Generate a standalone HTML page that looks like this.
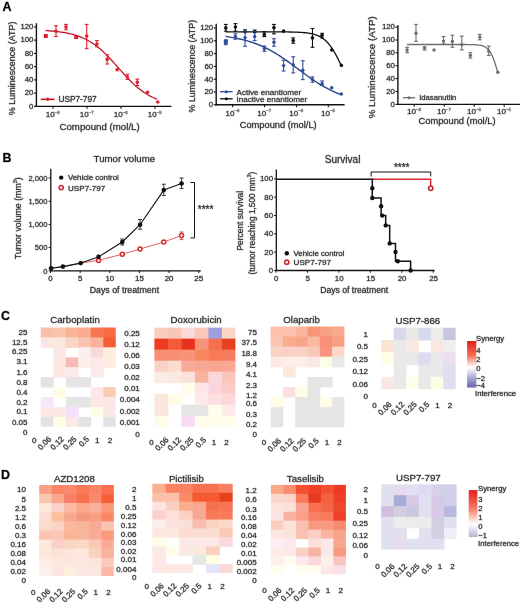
<!DOCTYPE html>
<html><head><meta charset="utf-8"><style>
html,body{margin:0;padding:0;background:#fff;width:520px;height:603px;overflow:hidden}
svg{display:block}
text{font-family:"Liberation Sans", sans-serif}
text{paint-order:stroke;stroke:rgba(40,40,40,0.38);stroke-width:0.8px;stroke-linejoin:round} svg{will-change:transform}
</style></head><body>
<svg width="520" height="603" viewBox="0 0 520 603">
<rect x="0" y="0" width="520" height="603" fill="#fff"/>
<text x="2.40" y="11.20" font-size="12.4" text-anchor="start" fill="#000" font-weight="bold" >A</text>
<text x="2.50" y="161.70" font-size="12.4" text-anchor="start" fill="#000" font-weight="bold" >B</text>
<text x="1.00" y="319.80" font-size="12.4" text-anchor="start" fill="#000" font-weight="bold" >C</text>
<text x="0.90" y="478.60" font-size="12.4" text-anchor="start" fill="#000" font-weight="bold" >D</text>
<line x1="36.40" y1="23.20" x2="36.40" y2="107.00" stroke="#111" stroke-width="1.4" />
<line x1="35.80" y1="106.40" x2="171.50" y2="106.40" stroke="#111" stroke-width="1.4" />
<line x1="34.00" y1="106.40" x2="36.40" y2="106.40" stroke="#111" stroke-width="1.1" />
<text x="33.40" y="108.71" font-size="7.8" text-anchor="end" fill="#2a2a2a" font-weight="normal" >0</text>
<line x1="34.00" y1="93.15" x2="36.40" y2="93.15" stroke="#111" stroke-width="1.1" />
<text x="33.40" y="95.46" font-size="7.8" text-anchor="end" fill="#2a2a2a" font-weight="normal" >20</text>
<line x1="34.00" y1="79.90" x2="36.40" y2="79.90" stroke="#111" stroke-width="1.1" />
<text x="33.40" y="82.21" font-size="7.8" text-anchor="end" fill="#2a2a2a" font-weight="normal" >40</text>
<line x1="34.00" y1="66.65" x2="36.40" y2="66.65" stroke="#111" stroke-width="1.1" />
<text x="33.40" y="68.96" font-size="7.8" text-anchor="end" fill="#2a2a2a" font-weight="normal" >60</text>
<line x1="34.00" y1="53.40" x2="36.40" y2="53.40" stroke="#111" stroke-width="1.1" />
<text x="33.40" y="55.71" font-size="7.8" text-anchor="end" fill="#2a2a2a" font-weight="normal" >80</text>
<line x1="34.00" y1="40.15" x2="36.40" y2="40.15" stroke="#111" stroke-width="1.1" />
<text x="33.40" y="42.46" font-size="7.8" text-anchor="end" fill="#2a2a2a" font-weight="normal" >100</text>
<line x1="34.00" y1="26.90" x2="36.40" y2="26.90" stroke="#111" stroke-width="1.1" />
<text x="33.40" y="29.21" font-size="7.8" text-anchor="end" fill="#2a2a2a" font-weight="normal" >120</text>
<line x1="53.00" y1="106.40" x2="53.00" y2="108.80" stroke="#111" stroke-width="1.1" />
<text x="52.70" y="117.20" font-size="8.0" text-anchor="middle" fill="#2a2a2a">10<tspan font-size="4.4" dy="-3.2" fill="#555">−8</tspan></text>
<line x1="87.00" y1="106.40" x2="87.00" y2="108.80" stroke="#111" stroke-width="1.1" />
<text x="86.70" y="117.20" font-size="8.0" text-anchor="middle" fill="#2a2a2a">10<tspan font-size="4.4" dy="-3.2" fill="#555">−7</tspan></text>
<line x1="121.00" y1="106.40" x2="121.00" y2="108.80" stroke="#111" stroke-width="1.1" />
<text x="120.70" y="117.20" font-size="8.0" text-anchor="middle" fill="#2a2a2a">10<tspan font-size="4.4" dy="-3.2" fill="#555">−6</tspan></text>
<line x1="155.00" y1="106.40" x2="155.00" y2="108.80" stroke="#111" stroke-width="1.1" />
<text x="154.70" y="117.20" font-size="8.0" text-anchor="middle" fill="#2a2a2a">10<tspan font-size="4.4" dy="-3.2" fill="#555">−5</tspan></text>
<text x="99.60" y="130.49" font-size="9.7" text-anchor="middle" fill="#2a2a2a" font-weight="normal" >Compound (mol/L)</text>
<text x="0" y="0" transform="translate(11.80,68.40) rotate(-90)" font-size="9.0" text-anchor="middle" dominant-baseline="central" fill="#2a2a2a">% Luminescence (ATP)</text>
<polyline points="45.50,30.58 46.90,30.67 48.29,30.77 49.69,30.87 51.09,30.98 52.48,31.10 53.88,31.23 55.27,31.37 56.67,31.52 58.07,31.69 59.46,31.86 60.86,32.05 62.25,32.26 63.65,32.48 65.05,32.73 66.44,32.98 67.84,33.26 69.24,33.57 70.63,33.89 72.03,34.24 73.42,34.61 74.82,35.02 76.22,35.45 77.61,35.91 79.01,36.41 80.41,36.94 81.80,37.51 83.20,38.11 84.59,38.76 85.99,39.44 87.39,40.17 88.78,40.95 90.18,41.77 91.58,42.63 92.97,43.55 94.37,44.52 95.77,45.53 97.16,46.60 98.56,47.71 99.95,48.87 101.35,50.09 102.75,51.34 104.14,52.65 105.54,54.00 106.93,55.39 108.33,56.81 109.73,58.28 111.12,59.77 112.52,61.29 113.92,62.83 115.31,64.38 116.71,65.95 118.10,67.53 119.50,69.11 120.90,70.68 122.29,72.24 123.69,73.80 125.09,75.33 126.48,76.83 127.88,78.31 129.27,79.76 130.67,81.17 132.07,82.54 133.46,83.87 134.86,85.16 136.26,86.40 137.65,87.59 139.05,88.73 140.44,89.82 141.84,90.87 143.24,91.86 144.63,92.80 146.03,93.70 147.43,94.54 148.82,95.35 150.22,96.10 151.61,96.81 153.01,97.48 154.41,98.11 155.80,98.70 157.20,99.25" fill="none" stroke="#c41a2c" stroke-width="1.3" stroke-linejoin="round"/>
<rect x="43.80" y="34.00" width="4.00" height="4.00" fill="#e0202e" />
<line x1="56.00" y1="25.80" x2="56.00" y2="36.50" stroke="#e0202e" stroke-width="1.1" />
<line x1="54.10" y1="25.80" x2="57.90" y2="25.80" stroke="#e0202e" stroke-width="1.1" />
<line x1="54.10" y1="36.50" x2="57.90" y2="36.50" stroke="#e0202e" stroke-width="1.1" />
<circle cx="56.00" cy="31.20" r="1.8" fill="#e0202e" stroke="none" stroke-width="0"/>
<line x1="66.00" y1="24.40" x2="66.00" y2="29.80" stroke="#e0202e" stroke-width="1.1" />
<line x1="64.10" y1="24.40" x2="67.90" y2="24.40" stroke="#e0202e" stroke-width="1.1" />
<line x1="64.10" y1="29.80" x2="67.90" y2="29.80" stroke="#e0202e" stroke-width="1.1" />
<circle cx="66.00" cy="27.10" r="1.8" fill="#e0202e" stroke="none" stroke-width="0"/>
<rect x="74.20" y="35.00" width="4.00" height="4.00" fill="#e0202e" />
<line x1="86.70" y1="24.40" x2="86.70" y2="48.70" stroke="#e0202e" stroke-width="1.1" />
<line x1="84.80" y1="24.40" x2="88.60" y2="24.40" stroke="#e0202e" stroke-width="1.1" />
<line x1="84.80" y1="48.70" x2="88.60" y2="48.70" stroke="#e0202e" stroke-width="1.1" />
<circle cx="86.70" cy="36.00" r="1.8" fill="#e0202e" stroke="none" stroke-width="0"/>
<line x1="96.90" y1="40.60" x2="96.90" y2="46.80" stroke="#e0202e" stroke-width="1.1" />
<line x1="95.00" y1="40.60" x2="98.80" y2="40.60" stroke="#e0202e" stroke-width="1.1" />
<line x1="95.00" y1="46.80" x2="98.80" y2="46.80" stroke="#e0202e" stroke-width="1.1" />
<circle cx="96.90" cy="44.00" r="1.8" fill="#e0202e" stroke="none" stroke-width="0"/>
<line x1="107.20" y1="54.80" x2="107.20" y2="64.00" stroke="#e0202e" stroke-width="1.1" />
<line x1="105.30" y1="54.80" x2="109.10" y2="54.80" stroke="#e0202e" stroke-width="1.1" />
<line x1="105.30" y1="64.00" x2="109.10" y2="64.00" stroke="#e0202e" stroke-width="1.1" />
<circle cx="107.20" cy="59.40" r="1.8" fill="#e0202e" stroke="none" stroke-width="0"/>
<circle cx="117.10" cy="69.70" r="1.8" fill="#e0202e" stroke="none" stroke-width="0"/>
<line x1="127.40" y1="74.30" x2="127.40" y2="79.40" stroke="#e0202e" stroke-width="1.1" />
<line x1="125.50" y1="74.30" x2="129.30" y2="74.30" stroke="#e0202e" stroke-width="1.1" />
<line x1="125.50" y1="79.40" x2="129.30" y2="79.40" stroke="#e0202e" stroke-width="1.1" />
<circle cx="127.40" cy="77.00" r="1.8" fill="#e0202e" stroke="none" stroke-width="0"/>
<line x1="137.30" y1="79.10" x2="137.30" y2="85.50" stroke="#e0202e" stroke-width="1.1" />
<line x1="135.40" y1="79.10" x2="139.20" y2="79.10" stroke="#e0202e" stroke-width="1.1" />
<line x1="135.40" y1="85.50" x2="139.20" y2="85.50" stroke="#e0202e" stroke-width="1.1" />
<circle cx="137.30" cy="82.30" r="1.8" fill="#e0202e" stroke="none" stroke-width="0"/>
<circle cx="147.50" cy="92.30" r="1.8" fill="#e0202e" stroke="none" stroke-width="0"/>
<circle cx="157.80" cy="102.00" r="1.8" fill="#e0202e" stroke="none" stroke-width="0"/>
<line x1="40.80" y1="99.30" x2="54.60" y2="99.30" stroke="#c41a2c" stroke-width="1.6" />
<circle cx="47.70" cy="99.30" r="1.7" fill="#e0202e" stroke="none" stroke-width="0"/>
<text x="58.40" y="102.29" font-size="8.3" text-anchor="start" fill="#2a2a2a" font-weight="normal" >USP7-797</text>
<line x1="216.20" y1="23.70" x2="216.20" y2="105.40" stroke="#111" stroke-width="1.4" />
<line x1="215.60" y1="104.80" x2="344.60" y2="104.80" stroke="#111" stroke-width="1.4" />
<line x1="213.80" y1="104.80" x2="216.20" y2="104.80" stroke="#111" stroke-width="1.1" />
<text x="213.20" y="107.11" font-size="7.8" text-anchor="end" fill="#2a2a2a" font-weight="normal" >0</text>
<line x1="213.80" y1="92.00" x2="216.20" y2="92.00" stroke="#111" stroke-width="1.1" />
<text x="213.20" y="94.31" font-size="7.8" text-anchor="end" fill="#2a2a2a" font-weight="normal" >20</text>
<line x1="213.80" y1="79.20" x2="216.20" y2="79.20" stroke="#111" stroke-width="1.1" />
<text x="213.20" y="81.51" font-size="7.8" text-anchor="end" fill="#2a2a2a" font-weight="normal" >40</text>
<line x1="213.80" y1="66.40" x2="216.20" y2="66.40" stroke="#111" stroke-width="1.1" />
<text x="213.20" y="68.71" font-size="7.8" text-anchor="end" fill="#2a2a2a" font-weight="normal" >60</text>
<line x1="213.80" y1="53.60" x2="216.20" y2="53.60" stroke="#111" stroke-width="1.1" />
<text x="213.20" y="55.91" font-size="7.8" text-anchor="end" fill="#2a2a2a" font-weight="normal" >80</text>
<line x1="213.80" y1="40.80" x2="216.20" y2="40.80" stroke="#111" stroke-width="1.1" />
<text x="213.20" y="43.11" font-size="7.8" text-anchor="end" fill="#2a2a2a" font-weight="normal" >100</text>
<line x1="213.80" y1="28.00" x2="216.20" y2="28.00" stroke="#111" stroke-width="1.1" />
<text x="213.20" y="30.31" font-size="7.8" text-anchor="end" fill="#2a2a2a" font-weight="normal" >120</text>
<line x1="232.70" y1="104.80" x2="232.70" y2="107.20" stroke="#111" stroke-width="1.1" />
<text x="232.40" y="115.50" font-size="8.0" text-anchor="middle" fill="#2a2a2a">10<tspan font-size="4.4" dy="-3.2" fill="#555">−8</tspan></text>
<line x1="264.50" y1="104.80" x2="264.50" y2="107.20" stroke="#111" stroke-width="1.1" />
<text x="264.20" y="115.50" font-size="8.0" text-anchor="middle" fill="#2a2a2a">10<tspan font-size="4.4" dy="-3.2" fill="#555">−7</tspan></text>
<line x1="296.50" y1="104.80" x2="296.50" y2="107.20" stroke="#111" stroke-width="1.1" />
<text x="296.20" y="115.50" font-size="8.0" text-anchor="middle" fill="#2a2a2a">10<tspan font-size="4.4" dy="-3.2" fill="#555">−6</tspan></text>
<line x1="328.30" y1="104.80" x2="328.30" y2="107.20" stroke="#111" stroke-width="1.1" />
<text x="328.00" y="115.50" font-size="8.0" text-anchor="middle" fill="#2a2a2a">10<tspan font-size="4.4" dy="-3.2" fill="#555">−5</tspan></text>
<text x="278.20" y="127.95" font-size="9.3" text-anchor="middle" fill="#2a2a2a" font-weight="normal" >Compound (mol/L)</text>
<text x="0" y="0" transform="translate(192.30,66.20) rotate(-90)" font-size="8.9" text-anchor="middle" dominant-baseline="central" fill="#2a2a2a">% Luminescence (ATP)</text>
<polyline points="225.60,36.47 227.05,36.66 228.50,36.87 229.95,37.09 231.41,37.33 232.86,37.57 234.31,37.83 235.76,38.11 237.21,38.39 238.66,38.70 240.11,39.02 241.56,39.35 243.01,39.71 244.47,40.08 245.92,40.46 247.37,40.87 248.82,41.30 250.27,41.75 251.72,42.22 253.17,42.71 254.62,43.22 256.08,43.76 257.53,44.32 258.98,44.90 260.43,45.51 261.88,46.14 263.33,46.80 264.78,47.48 266.24,48.19 267.69,48.92 269.14,49.68 270.59,50.46 272.04,51.27 273.49,52.10 274.94,52.96 276.39,53.84 277.84,54.74 279.30,55.66 280.75,56.61 282.20,57.57 283.65,58.55 285.10,59.55 286.55,60.57 288.00,61.60 289.45,62.65 290.91,63.70 292.36,64.77 293.81,65.84 295.26,66.92 296.71,68.00 298.16,69.08 299.61,70.16 301.06,71.25 302.52,72.32 303.97,73.39 305.42,74.46 306.87,75.51 308.32,76.55 309.77,77.58 311.22,78.59 312.68,79.59 314.13,80.57 315.58,81.53 317.03,82.47 318.48,83.39 319.93,84.28 321.38,85.16 322.83,86.01 324.28,86.83 325.74,87.64 327.19,88.41 328.64,89.16 330.09,89.89 331.54,90.59 332.99,91.27 334.44,91.92 335.89,92.55 337.35,93.15 338.80,93.73 340.25,94.28 341.70,94.81" fill="none" stroke="#2a4590" stroke-width="1.4" stroke-linejoin="round"/>
<polyline points="225.60,31.84 227.05,31.84 228.50,31.84 229.95,31.84 231.41,31.84 232.86,31.84 234.31,31.84 235.76,31.84 237.21,31.84 238.66,31.84 240.11,31.84 241.56,31.84 243.01,31.84 244.47,31.84 245.92,31.84 247.37,31.84 248.82,31.84 250.27,31.84 251.72,31.84 253.17,31.84 254.62,31.84 256.08,31.84 257.53,31.84 258.98,31.84 260.43,31.84 261.88,31.85 263.33,31.85 264.78,31.85 266.24,31.85 267.69,31.85 269.14,31.85 270.59,31.86 272.04,31.86 273.49,31.86 274.94,31.87 276.39,31.87 277.84,31.88 279.30,31.88 280.75,31.89 282.20,31.90 283.65,31.91 285.10,31.93 286.55,31.94 288.00,31.96 289.45,31.98 290.91,32.01 292.36,32.04 293.81,32.08 295.26,32.12 296.71,32.17 298.16,32.23 299.61,32.31 301.06,32.39 302.52,32.50 303.97,32.62 305.42,32.76 306.87,32.93 308.32,33.13 309.77,33.36 311.22,33.64 312.68,33.96 314.13,34.34 315.58,34.79 317.03,35.31 318.48,35.92 319.93,36.63 321.38,37.45 322.83,38.41 324.28,39.50 325.74,40.75 327.19,42.18 328.64,43.79 330.09,45.59 331.54,47.60 332.99,49.81 334.44,52.22 335.89,54.82 337.35,57.59 338.80,60.50 340.25,63.52 341.70,66.60" fill="none" stroke="#111" stroke-width="1.3" stroke-linejoin="round"/>
<line x1="225.80" y1="24.42" x2="225.80" y2="31.16" stroke="#111" stroke-width="1.1" />
<line x1="223.90" y1="24.42" x2="227.70" y2="24.42" stroke="#111" stroke-width="1.1" />
<line x1="223.90" y1="31.16" x2="227.70" y2="31.16" stroke="#111" stroke-width="1.1" />
<circle cx="225.80" cy="27.92" r="1.8" fill="#111" stroke="none" stroke-width="0"/>
<line x1="235.43" y1="23.62" x2="235.43" y2="31.16" stroke="#111" stroke-width="1.1" />
<line x1="233.53" y1="23.62" x2="237.33" y2="23.62" stroke="#111" stroke-width="1.1" />
<line x1="233.53" y1="31.16" x2="237.33" y2="31.16" stroke="#111" stroke-width="1.1" />
<circle cx="235.43" cy="27.12" r="1.8" fill="#111" stroke="none" stroke-width="0"/>
<line x1="245.06" y1="29.54" x2="245.06" y2="31.69" stroke="#111" stroke-width="1.1" />
<line x1="243.16" y1="29.54" x2="246.96" y2="29.54" stroke="#111" stroke-width="1.1" />
<circle cx="245.06" cy="31.69" r="1.8" fill="#111" stroke="none" stroke-width="0"/>
<line x1="254.69" y1="30.08" x2="254.69" y2="31.96" stroke="#111" stroke-width="1.1" />
<line x1="252.79" y1="30.08" x2="256.59" y2="30.08" stroke="#111" stroke-width="1.1" />
<circle cx="254.69" cy="31.96" r="1.8" fill="#111" stroke="none" stroke-width="0"/>
<line x1="264.32" y1="31.69" x2="264.32" y2="36.54" stroke="#111" stroke-width="1.1" />
<line x1="262.42" y1="31.69" x2="266.22" y2="31.69" stroke="#111" stroke-width="1.1" />
<line x1="262.42" y1="36.54" x2="266.22" y2="36.54" stroke="#111" stroke-width="1.1" />
<circle cx="264.32" cy="34.39" r="1.8" fill="#111" stroke="none" stroke-width="0"/>
<line x1="273.95" y1="24.42" x2="273.95" y2="33.85" stroke="#111" stroke-width="1.1" />
<line x1="272.05" y1="24.42" x2="275.85" y2="24.42" stroke="#111" stroke-width="1.1" />
<line x1="272.05" y1="33.85" x2="275.85" y2="33.85" stroke="#111" stroke-width="1.1" />
<circle cx="273.95" cy="27.65" r="1.8" fill="#111" stroke="none" stroke-width="0"/>
<circle cx="283.58" cy="31.16" r="1.8" fill="#111" stroke="none" stroke-width="0"/>
<line x1="293.21" y1="37.89" x2="293.21" y2="43.27" stroke="#111" stroke-width="1.1" />
<line x1="291.31" y1="37.89" x2="295.11" y2="37.89" stroke="#111" stroke-width="1.1" />
<line x1="291.31" y1="43.27" x2="295.11" y2="43.27" stroke="#111" stroke-width="1.1" />
<circle cx="293.21" cy="40.58" r="1.8" fill="#111" stroke="none" stroke-width="0"/>
<line x1="312.47" y1="28.46" x2="312.47" y2="47.31" stroke="#111" stroke-width="1.1" />
<line x1="310.57" y1="28.46" x2="314.37" y2="28.46" stroke="#111" stroke-width="1.1" />
<line x1="310.57" y1="47.31" x2="314.37" y2="47.31" stroke="#111" stroke-width="1.1" />
<circle cx="312.47" cy="37.89" r="1.8" fill="#111" stroke="none" stroke-width="0"/>
<line x1="322.10" y1="33.31" x2="322.10" y2="37.89" stroke="#111" stroke-width="1.1" />
<line x1="320.20" y1="33.31" x2="324.00" y2="33.31" stroke="#111" stroke-width="1.1" />
<line x1="320.20" y1="37.89" x2="324.00" y2="37.89" stroke="#111" stroke-width="1.1" />
<circle cx="322.10" cy="35.19" r="1.8" fill="#111" stroke="none" stroke-width="0"/>
<circle cx="331.73" cy="50.00" r="1.8" fill="#111" stroke="none" stroke-width="0"/>
<circle cx="341.36" cy="65.35" r="1.8" fill="#111" stroke="none" stroke-width="0"/>
<line x1="225.80" y1="39.77" x2="225.80" y2="44.62" stroke="#2f4c9c" stroke-width="1.1" />
<line x1="223.90" y1="39.77" x2="227.70" y2="39.77" stroke="#2f4c9c" stroke-width="1.1" />
<line x1="223.90" y1="44.62" x2="227.70" y2="44.62" stroke="#2f4c9c" stroke-width="1.1" />
<rect x="223.80" y="39.93" width="4.00" height="4.00" fill="#2f4c9c" />
<line x1="235.43" y1="33.85" x2="235.43" y2="39.23" stroke="#2f4c9c" stroke-width="1.1" />
<line x1="233.53" y1="33.85" x2="237.33" y2="33.85" stroke="#2f4c9c" stroke-width="1.1" />
<line x1="233.53" y1="39.23" x2="237.33" y2="39.23" stroke="#2f4c9c" stroke-width="1.1" />
<circle cx="235.43" cy="36.54" r="1.7" fill="#2f4c9c" stroke="none" stroke-width="0"/>
<line x1="245.06" y1="29.54" x2="245.06" y2="46.23" stroke="#2f4c9c" stroke-width="1.1" />
<line x1="243.16" y1="29.54" x2="246.96" y2="29.54" stroke="#2f4c9c" stroke-width="1.1" />
<line x1="243.16" y1="46.23" x2="246.96" y2="46.23" stroke="#2f4c9c" stroke-width="1.1" />
<circle cx="245.06" cy="37.62" r="1.7" fill="#2f4c9c" stroke="none" stroke-width="0"/>
<line x1="254.69" y1="31.69" x2="254.69" y2="40.58" stroke="#2f4c9c" stroke-width="1.1" />
<line x1="252.79" y1="31.69" x2="256.59" y2="31.69" stroke="#2f4c9c" stroke-width="1.1" />
<line x1="252.79" y1="40.58" x2="256.59" y2="40.58" stroke="#2f4c9c" stroke-width="1.1" />
<circle cx="254.69" cy="36.54" r="1.7" fill="#2f4c9c" stroke="none" stroke-width="0"/>
<line x1="264.32" y1="45.96" x2="264.32" y2="51.35" stroke="#2f4c9c" stroke-width="1.1" />
<line x1="262.42" y1="45.96" x2="266.22" y2="45.96" stroke="#2f4c9c" stroke-width="1.1" />
<line x1="262.42" y1="51.35" x2="266.22" y2="51.35" stroke="#2f4c9c" stroke-width="1.1" />
<circle cx="264.32" cy="48.66" r="1.7" fill="#2f4c9c" stroke="none" stroke-width="0"/>
<line x1="273.95" y1="38.69" x2="273.95" y2="46.23" stroke="#2f4c9c" stroke-width="1.1" />
<line x1="272.05" y1="38.69" x2="275.85" y2="38.69" stroke="#2f4c9c" stroke-width="1.1" />
<line x1="272.05" y1="46.23" x2="275.85" y2="46.23" stroke="#2f4c9c" stroke-width="1.1" />
<circle cx="273.95" cy="42.19" r="1.7" fill="#2f4c9c" stroke="none" stroke-width="0"/>
<line x1="283.58" y1="60.23" x2="283.58" y2="71.00" stroke="#2f4c9c" stroke-width="1.1" />
<line x1="281.68" y1="60.23" x2="285.48" y2="60.23" stroke="#2f4c9c" stroke-width="1.1" />
<line x1="281.68" y1="71.00" x2="285.48" y2="71.00" stroke="#2f4c9c" stroke-width="1.1" />
<circle cx="283.58" cy="65.62" r="1.7" fill="#2f4c9c" stroke="none" stroke-width="0"/>
<line x1="293.21" y1="56.73" x2="293.21" y2="72.89" stroke="#2f4c9c" stroke-width="1.1" />
<line x1="291.31" y1="56.73" x2="295.11" y2="56.73" stroke="#2f4c9c" stroke-width="1.1" />
<line x1="291.31" y1="72.89" x2="295.11" y2="72.89" stroke="#2f4c9c" stroke-width="1.1" />
<circle cx="293.21" cy="64.81" r="1.7" fill="#2f4c9c" stroke="none" stroke-width="0"/>
<line x1="302.84" y1="60.77" x2="302.84" y2="79.62" stroke="#2f4c9c" stroke-width="1.1" />
<line x1="300.94" y1="60.77" x2="304.74" y2="60.77" stroke="#2f4c9c" stroke-width="1.1" />
<line x1="300.94" y1="79.62" x2="304.74" y2="79.62" stroke="#2f4c9c" stroke-width="1.1" />
<circle cx="302.84" cy="70.20" r="1.7" fill="#2f4c9c" stroke="none" stroke-width="0"/>
<line x1="312.47" y1="76.93" x2="312.47" y2="82.31" stroke="#2f4c9c" stroke-width="1.1" />
<line x1="310.57" y1="76.93" x2="314.37" y2="76.93" stroke="#2f4c9c" stroke-width="1.1" />
<line x1="310.57" y1="82.31" x2="314.37" y2="82.31" stroke="#2f4c9c" stroke-width="1.1" />
<circle cx="312.47" cy="79.62" r="1.7" fill="#2f4c9c" stroke="none" stroke-width="0"/>
<line x1="322.10" y1="80.97" x2="322.10" y2="85.54" stroke="#2f4c9c" stroke-width="1.1" />
<line x1="320.20" y1="80.97" x2="324.00" y2="80.97" stroke="#2f4c9c" stroke-width="1.1" />
<line x1="320.20" y1="85.54" x2="324.00" y2="85.54" stroke="#2f4c9c" stroke-width="1.1" />
<circle cx="322.10" cy="83.66" r="1.7" fill="#2f4c9c" stroke="none" stroke-width="0"/>
<circle cx="331.73" cy="87.70" r="1.7" fill="#2f4c9c" stroke="none" stroke-width="0"/>
<circle cx="341.36" cy="93.89" r="1.7" fill="#2f4c9c" stroke="none" stroke-width="0"/>
<line x1="220.00" y1="91.70" x2="232.70" y2="91.70" stroke="#2f4c9c" stroke-width="1.3" />
<circle cx="226.30" cy="91.70" r="1.5" fill="#2f4c9c" stroke="none" stroke-width="0"/>
<line x1="220.00" y1="98.80" x2="232.70" y2="98.80" stroke="#111" stroke-width="1.3" />
<circle cx="226.30" cy="98.80" r="1.5" fill="#111" stroke="none" stroke-width="0"/>
<text x="236.50" y="94.62" font-size="8.1" text-anchor="start" fill="#2a2a2a" font-weight="normal" >Active enantiomer</text>
<text x="236.50" y="101.72" font-size="8.1" text-anchor="start" fill="#2a2a2a" font-weight="normal" >Inactive enantiomer</text>
<line x1="397.90" y1="25.20" x2="397.90" y2="105.00" stroke="#111" stroke-width="1.4" />
<line x1="397.30" y1="104.40" x2="520.00" y2="104.40" stroke="#111" stroke-width="1.4" />
<line x1="395.50" y1="104.40" x2="397.90" y2="104.40" stroke="#111" stroke-width="1.1" />
<text x="394.90" y="106.71" font-size="7.8" text-anchor="end" fill="#2a2a2a" font-weight="normal" >0</text>
<line x1="395.50" y1="91.52" x2="397.90" y2="91.52" stroke="#111" stroke-width="1.1" />
<text x="394.90" y="93.82" font-size="7.8" text-anchor="end" fill="#2a2a2a" font-weight="normal" >20</text>
<line x1="395.50" y1="78.63" x2="397.90" y2="78.63" stroke="#111" stroke-width="1.1" />
<text x="394.90" y="80.94" font-size="7.8" text-anchor="end" fill="#2a2a2a" font-weight="normal" >40</text>
<line x1="395.50" y1="65.75" x2="397.90" y2="65.75" stroke="#111" stroke-width="1.1" />
<text x="394.90" y="68.06" font-size="7.8" text-anchor="end" fill="#2a2a2a" font-weight="normal" >60</text>
<line x1="395.50" y1="52.87" x2="397.90" y2="52.87" stroke="#111" stroke-width="1.1" />
<text x="394.90" y="55.17" font-size="7.8" text-anchor="end" fill="#2a2a2a" font-weight="normal" >80</text>
<line x1="395.50" y1="39.98" x2="397.90" y2="39.98" stroke="#111" stroke-width="1.1" />
<text x="394.90" y="42.29" font-size="7.8" text-anchor="end" fill="#2a2a2a" font-weight="normal" >100</text>
<line x1="395.50" y1="27.10" x2="397.90" y2="27.10" stroke="#111" stroke-width="1.1" />
<text x="394.90" y="29.41" font-size="7.8" text-anchor="end" fill="#2a2a2a" font-weight="normal" >120</text>
<line x1="414.20" y1="104.40" x2="414.20" y2="106.80" stroke="#111" stroke-width="1.1" />
<text x="413.90" y="113.70" font-size="8.0" text-anchor="middle" fill="#2a2a2a">10<tspan font-size="4.4" dy="-3.2" fill="#555">−8</tspan></text>
<line x1="444.20" y1="104.40" x2="444.20" y2="106.80" stroke="#111" stroke-width="1.1" />
<text x="443.90" y="113.70" font-size="8.0" text-anchor="middle" fill="#2a2a2a">10<tspan font-size="4.4" dy="-3.2" fill="#555">−7</tspan></text>
<line x1="474.20" y1="104.40" x2="474.20" y2="106.80" stroke="#111" stroke-width="1.1" />
<text x="473.90" y="113.70" font-size="8.0" text-anchor="middle" fill="#2a2a2a">10<tspan font-size="4.4" dy="-3.2" fill="#555">−6</tspan></text>
<line x1="504.20" y1="104.40" x2="504.20" y2="106.80" stroke="#111" stroke-width="1.1" />
<text x="503.90" y="113.70" font-size="8.0" text-anchor="middle" fill="#2a2a2a">10<tspan font-size="4.4" dy="-3.2" fill="#555">−5</tspan></text>
<text x="457.00" y="124.15" font-size="9.3" text-anchor="middle" fill="#2a2a2a" font-weight="normal" >Compound (mol/L)</text>
<text x="0" y="0" transform="translate(371.90,67.30) rotate(-90)" font-size="9.8" text-anchor="middle" dominant-baseline="central" fill="#2a2a2a">% Luminescence (ATP)</text>
<polyline points="407.00,44.49 408.14,44.49 409.27,44.49 410.41,44.49 411.55,44.49 412.69,44.49 413.82,44.49 414.96,44.49 416.10,44.49 417.24,44.49 418.38,44.49 419.51,44.49 420.65,44.49 421.79,44.49 422.93,44.49 424.06,44.49 425.20,44.49 426.34,44.49 427.48,44.49 428.61,44.49 429.75,44.49 430.89,44.49 432.02,44.49 433.16,44.49 434.30,44.49 435.44,44.49 436.57,44.49 437.71,44.49 438.85,44.49 439.99,44.49 441.12,44.49 442.26,44.49 443.40,44.49 444.54,44.49 445.68,44.49 446.81,44.49 447.95,44.49 449.09,44.49 450.23,44.49 451.36,44.49 452.50,44.49 453.64,44.49 454.77,44.49 455.91,44.49 457.05,44.50 458.19,44.50 459.32,44.50 460.46,44.50 461.60,44.50 462.74,44.51 463.88,44.51 465.01,44.51 466.15,44.52 467.29,44.53 468.43,44.54 469.56,44.56 470.70,44.58 471.84,44.60 472.98,44.64 474.11,44.68 475.25,44.74 476.39,44.82 477.52,44.92 478.66,45.05 479.80,45.22 480.94,45.44 482.07,45.72 483.21,46.10 484.35,46.58 485.49,47.20 486.62,47.99 487.76,49.00 488.90,50.27 490.04,51.84 491.18,53.77 492.31,56.10 493.45,58.85 494.59,62.01 495.73,65.54 496.86,69.37 498.00,73.38" fill="none" stroke="#6e6e6e" stroke-width="1.3" stroke-linejoin="round"/>
<line x1="407.10" y1="47.30" x2="407.10" y2="52.70" stroke="#6e6e6e" stroke-width="1.1" />
<line x1="405.20" y1="47.30" x2="409.00" y2="47.30" stroke="#6e6e6e" stroke-width="1.1" />
<line x1="405.20" y1="52.70" x2="409.00" y2="52.70" stroke="#6e6e6e" stroke-width="1.1" />
<circle cx="407.10" cy="50.00" r="1.7" fill="#6e6e6e" stroke="none" stroke-width="0"/>
<line x1="416.00" y1="24.40" x2="416.00" y2="41.40" stroke="#6e6e6e" stroke-width="1.1" />
<line x1="414.10" y1="24.40" x2="417.90" y2="24.40" stroke="#6e6e6e" stroke-width="1.1" />
<line x1="414.10" y1="41.40" x2="417.90" y2="41.40" stroke="#6e6e6e" stroke-width="1.1" />
<circle cx="416.00" cy="33.30" r="1.7" fill="#6e6e6e" stroke="none" stroke-width="0"/>
<line x1="424.60" y1="46.80" x2="424.60" y2="50.00" stroke="#6e6e6e" stroke-width="1.1" />
<line x1="422.70" y1="46.80" x2="426.50" y2="46.80" stroke="#6e6e6e" stroke-width="1.1" />
<line x1="422.70" y1="50.00" x2="426.50" y2="50.00" stroke="#6e6e6e" stroke-width="1.1" />
<circle cx="424.60" cy="48.10" r="1.7" fill="#6e6e6e" stroke="none" stroke-width="0"/>
<circle cx="434.00" cy="50.00" r="1.7" fill="#6e6e6e" stroke="none" stroke-width="0"/>
<line x1="443.50" y1="36.50" x2="443.50" y2="44.10" stroke="#6e6e6e" stroke-width="1.1" />
<line x1="441.60" y1="36.50" x2="445.40" y2="36.50" stroke="#6e6e6e" stroke-width="1.1" />
<line x1="441.60" y1="44.10" x2="445.40" y2="44.10" stroke="#6e6e6e" stroke-width="1.1" />
<circle cx="443.50" cy="41.10" r="1.7" fill="#6e6e6e" stroke="none" stroke-width="0"/>
<line x1="452.40" y1="35.20" x2="452.40" y2="47.30" stroke="#6e6e6e" stroke-width="1.1" />
<line x1="450.50" y1="35.20" x2="454.30" y2="35.20" stroke="#6e6e6e" stroke-width="1.1" />
<line x1="450.50" y1="47.30" x2="454.30" y2="47.30" stroke="#6e6e6e" stroke-width="1.1" />
<circle cx="452.40" cy="41.40" r="1.7" fill="#6e6e6e" stroke="none" stroke-width="0"/>
<line x1="461.80" y1="36.10" x2="461.80" y2="49.90" stroke="#6e6e6e" stroke-width="1.1" />
<line x1="459.90" y1="36.10" x2="463.70" y2="36.10" stroke="#6e6e6e" stroke-width="1.1" />
<line x1="459.90" y1="49.90" x2="463.70" y2="49.90" stroke="#6e6e6e" stroke-width="1.1" />
<circle cx="461.80" cy="44.60" r="1.7" fill="#6e6e6e" stroke="none" stroke-width="0"/>
<line x1="470.40" y1="52.70" x2="470.40" y2="58.10" stroke="#6e6e6e" stroke-width="1.1" />
<line x1="468.50" y1="52.70" x2="472.30" y2="52.70" stroke="#6e6e6e" stroke-width="1.1" />
<line x1="468.50" y1="58.10" x2="472.30" y2="58.10" stroke="#6e6e6e" stroke-width="1.1" />
<circle cx="470.40" cy="55.40" r="1.7" fill="#6e6e6e" stroke="none" stroke-width="0"/>
<line x1="479.80" y1="34.40" x2="479.80" y2="39.80" stroke="#6e6e6e" stroke-width="1.1" />
<line x1="477.90" y1="34.40" x2="481.70" y2="34.40" stroke="#6e6e6e" stroke-width="1.1" />
<line x1="477.90" y1="39.80" x2="481.70" y2="39.80" stroke="#6e6e6e" stroke-width="1.1" />
<circle cx="479.80" cy="37.10" r="1.7" fill="#6e6e6e" stroke="none" stroke-width="0"/>
<line x1="488.70" y1="46.00" x2="488.70" y2="55.40" stroke="#6e6e6e" stroke-width="1.1" />
<line x1="486.80" y1="46.00" x2="490.60" y2="46.00" stroke="#6e6e6e" stroke-width="1.1" />
<line x1="486.80" y1="55.40" x2="490.60" y2="55.40" stroke="#6e6e6e" stroke-width="1.1" />
<circle cx="488.70" cy="51.30" r="1.7" fill="#6e6e6e" stroke="none" stroke-width="0"/>
<circle cx="497.90" cy="72.30" r="1.7" fill="#6e6e6e" stroke="none" stroke-width="0"/>
<line x1="403.00" y1="97.70" x2="415.20" y2="97.70" stroke="#6e6e6e" stroke-width="1.3" />
<circle cx="409.10" cy="97.70" r="1.5" fill="#6e6e6e" stroke="none" stroke-width="0"/>
<text x="419.20" y="100.07" font-size="7.7" text-anchor="start" fill="#2a2a2a" font-weight="normal" >Idasanutlin</text>
<line x1="50.80" y1="168.80" x2="50.80" y2="271.30" stroke="#111" stroke-width="1.3" />
<line x1="50.30" y1="270.80" x2="200.80" y2="270.80" stroke="#111" stroke-width="1.3" />
<line x1="48.60" y1="270.80" x2="50.80" y2="270.80" stroke="#111" stroke-width="1" />
<text x="47.40" y="273.54" font-size="7.6" text-anchor="end" fill="#2a2a2a" font-weight="normal" >0</text>
<line x1="48.60" y1="247.60" x2="50.80" y2="247.60" stroke="#111" stroke-width="1" />
<text x="47.40" y="250.34" font-size="7.6" text-anchor="end" fill="#2a2a2a" font-weight="normal" >500</text>
<line x1="48.60" y1="224.40" x2="50.80" y2="224.40" stroke="#111" stroke-width="1" />
<text x="47.40" y="227.14" font-size="7.6" text-anchor="end" fill="#2a2a2a" font-weight="normal" >1,000</text>
<line x1="48.60" y1="201.20" x2="50.80" y2="201.20" stroke="#111" stroke-width="1" />
<text x="47.40" y="203.94" font-size="7.6" text-anchor="end" fill="#2a2a2a" font-weight="normal" >1,500</text>
<line x1="48.60" y1="178.00" x2="50.80" y2="178.00" stroke="#111" stroke-width="1" />
<text x="47.40" y="180.74" font-size="7.6" text-anchor="end" fill="#2a2a2a" font-weight="normal" >2,000</text>
<line x1="50.50" y1="270.80" x2="50.50" y2="273.00" stroke="#111" stroke-width="1" />
<text x="50.50" y="281.24" font-size="7.9" text-anchor="middle" fill="#2a2a2a" font-weight="normal" >0</text>
<line x1="80.15" y1="270.80" x2="80.15" y2="273.00" stroke="#111" stroke-width="1" />
<text x="80.15" y="281.24" font-size="7.9" text-anchor="middle" fill="#2a2a2a" font-weight="normal" >5</text>
<line x1="109.80" y1="270.80" x2="109.80" y2="273.00" stroke="#111" stroke-width="1" />
<text x="109.80" y="281.24" font-size="7.9" text-anchor="middle" fill="#2a2a2a" font-weight="normal" >10</text>
<line x1="139.45" y1="270.80" x2="139.45" y2="273.00" stroke="#111" stroke-width="1" />
<text x="139.45" y="281.24" font-size="7.9" text-anchor="middle" fill="#2a2a2a" font-weight="normal" >15</text>
<line x1="169.10" y1="270.80" x2="169.10" y2="273.00" stroke="#111" stroke-width="1" />
<text x="169.10" y="281.24" font-size="7.9" text-anchor="middle" fill="#2a2a2a" font-weight="normal" >20</text>
<line x1="198.75" y1="270.80" x2="198.75" y2="273.00" stroke="#111" stroke-width="1" />
<text x="198.75" y="281.24" font-size="7.9" text-anchor="middle" fill="#2a2a2a" font-weight="normal" >25</text>
<text x="124.40" y="161.99" font-size="9.7" text-anchor="middle" fill="#2a2a2a" font-weight="normal" >Tumor volume</text>
<text x="124.40" y="292.97" font-size="8.8" text-anchor="middle" fill="#2a2a2a" font-weight="normal" >Days of treatment</text>
<text x="0" y="0" transform="translate(18.1,218.2) rotate(-90)" font-size="8.8" text-anchor="middle" dominant-baseline="central" fill="#2a2a2a">Tumor volume (mm<tspan font-size="5.5" dy="-3">3</tspan><tspan dy="3">)</tspan></text>
<polyline points="51.10,268.30 62.96,266.60 80.75,263.10 98.54,260.40 122.26,254.20 140.05,249.00 163.77,242.00 181.56,235.50" fill="none" stroke="#d9534f" stroke-width="0.9" stroke-linejoin="round"/>
<polyline points="51.10,268.30 62.96,266.60 80.75,263.10 98.54,256.90 122.26,242.00 140.05,224.70 163.77,190.10 181.56,183.50" fill="none" stroke="#111" stroke-width="1.1" stroke-linejoin="round"/>
<line x1="122.26" y1="239.00" x2="122.26" y2="245.00" stroke="#222" stroke-width="0.9" />
<line x1="120.26" y1="239.00" x2="124.26" y2="239.00" stroke="#222" stroke-width="0.9" />
<line x1="120.26" y1="245.00" x2="124.26" y2="245.00" stroke="#222" stroke-width="0.9" />
<line x1="140.05" y1="219.50" x2="140.05" y2="229.20" stroke="#222" stroke-width="0.9" />
<line x1="138.05" y1="219.50" x2="142.05" y2="219.50" stroke="#222" stroke-width="0.9" />
<line x1="138.05" y1="229.20" x2="142.05" y2="229.20" stroke="#222" stroke-width="0.9" />
<line x1="163.77" y1="184.20" x2="163.77" y2="195.60" stroke="#222" stroke-width="0.9" />
<line x1="161.77" y1="184.20" x2="165.77" y2="184.20" stroke="#222" stroke-width="0.9" />
<line x1="161.77" y1="195.60" x2="165.77" y2="195.60" stroke="#222" stroke-width="0.9" />
<line x1="181.56" y1="178.00" x2="181.56" y2="188.40" stroke="#222" stroke-width="0.9" />
<line x1="179.56" y1="178.00" x2="183.56" y2="178.00" stroke="#222" stroke-width="0.9" />
<line x1="179.56" y1="188.40" x2="183.56" y2="188.40" stroke="#222" stroke-width="0.9" />
<line x1="181.56" y1="232.00" x2="181.56" y2="239.60" stroke="#c43" stroke-width="0.9" />
<line x1="179.56" y1="232.00" x2="183.56" y2="232.00" stroke="#c43" stroke-width="0.9" />
<line x1="179.56" y1="239.60" x2="183.56" y2="239.60" stroke="#c43" stroke-width="0.9" />
<circle cx="98.54" cy="260.40" r="2.0" fill="#fff" stroke="#d7282f" stroke-width="1.5"/>
<circle cx="122.26" cy="254.20" r="2.0" fill="#fff" stroke="#d7282f" stroke-width="1.5"/>
<circle cx="140.05" cy="249.00" r="2.0" fill="#fff" stroke="#d7282f" stroke-width="1.5"/>
<circle cx="163.77" cy="242.00" r="2.0" fill="#fff" stroke="#d7282f" stroke-width="1.5"/>
<circle cx="181.56" cy="235.50" r="2.0" fill="#fff" stroke="#d7282f" stroke-width="1.5"/>
<circle cx="51.10" cy="268.30" r="2.3" fill="#111" stroke="none" stroke-width="0"/>
<circle cx="62.96" cy="266.60" r="2.3" fill="#111" stroke="none" stroke-width="0"/>
<circle cx="80.75" cy="263.10" r="2.3" fill="#111" stroke="none" stroke-width="0"/>
<circle cx="98.54" cy="256.90" r="2.3" fill="#111" stroke="none" stroke-width="0"/>
<circle cx="122.26" cy="242.00" r="2.3" fill="#111" stroke="none" stroke-width="0"/>
<circle cx="140.05" cy="224.70" r="2.3" fill="#111" stroke="none" stroke-width="0"/>
<circle cx="163.77" cy="190.10" r="2.3" fill="#111" stroke="none" stroke-width="0"/>
<circle cx="181.56" cy="183.50" r="2.3" fill="#111" stroke="none" stroke-width="0"/>
<line x1="194.50" y1="182.50" x2="194.50" y2="237.90" stroke="#111" stroke-width="1.0" />
<line x1="190.40" y1="182.50" x2="194.50" y2="182.50" stroke="#111" stroke-width="1.0" />
<line x1="190.40" y1="237.90" x2="194.50" y2="237.90" stroke="#111" stroke-width="1.0" />
<text x="205.60" y="213.00" font-size="10.0" text-anchor="middle" fill="#2a2a2a" font-weight="normal" >****</text>
<circle cx="61.20" cy="177.60" r="2.2" fill="#111" stroke="none" stroke-width="0"/>
<text x="68.00" y="180.41" font-size="7.8" text-anchor="start" fill="#2a2a2a" font-weight="normal" >Vehicle control</text>
<circle cx="61.20" cy="187.60" r="2.1" fill="#fff" stroke="#cc2a35" stroke-width="1.6"/>
<text x="68.00" y="190.52" font-size="8.1" text-anchor="start" fill="#2a2a2a" font-weight="normal" >USP7-797</text>
<line x1="276.30" y1="169.60" x2="276.30" y2="271.00" stroke="#111" stroke-width="1.3" />
<line x1="275.80" y1="270.50" x2="434.60" y2="270.50" stroke="#111" stroke-width="1.3" />
<line x1="274.10" y1="270.50" x2="276.30" y2="270.50" stroke="#111" stroke-width="1" />
<text x="273.10" y="273.04" font-size="7.9" text-anchor="end" fill="#2a2a2a" font-weight="normal" >0</text>
<line x1="274.10" y1="252.16" x2="276.30" y2="252.16" stroke="#111" stroke-width="1" />
<text x="273.10" y="254.70" font-size="7.9" text-anchor="end" fill="#2a2a2a" font-weight="normal" >20</text>
<line x1="274.10" y1="233.82" x2="276.30" y2="233.82" stroke="#111" stroke-width="1" />
<text x="273.10" y="236.36" font-size="7.9" text-anchor="end" fill="#2a2a2a" font-weight="normal" >40</text>
<line x1="274.10" y1="215.48" x2="276.30" y2="215.48" stroke="#111" stroke-width="1" />
<text x="273.10" y="218.02" font-size="7.9" text-anchor="end" fill="#2a2a2a" font-weight="normal" >60</text>
<line x1="274.10" y1="197.14" x2="276.30" y2="197.14" stroke="#111" stroke-width="1" />
<text x="273.10" y="199.68" font-size="7.9" text-anchor="end" fill="#2a2a2a" font-weight="normal" >80</text>
<line x1="274.10" y1="178.80" x2="276.30" y2="178.80" stroke="#111" stroke-width="1" />
<text x="273.10" y="181.34" font-size="7.9" text-anchor="end" fill="#2a2a2a" font-weight="normal" >100</text>
<line x1="276.00" y1="270.50" x2="276.00" y2="272.70" stroke="#111" stroke-width="1" />
<text x="276.30" y="281.24" font-size="7.9" text-anchor="middle" fill="#2a2a2a" font-weight="normal" >0</text>
<line x1="307.45" y1="270.50" x2="307.45" y2="272.70" stroke="#111" stroke-width="1" />
<text x="307.75" y="281.24" font-size="7.9" text-anchor="middle" fill="#2a2a2a" font-weight="normal" >5</text>
<line x1="338.90" y1="270.50" x2="338.90" y2="272.70" stroke="#111" stroke-width="1" />
<text x="339.20" y="281.24" font-size="7.9" text-anchor="middle" fill="#2a2a2a" font-weight="normal" >10</text>
<line x1="370.35" y1="270.50" x2="370.35" y2="272.70" stroke="#111" stroke-width="1" />
<text x="370.65" y="281.24" font-size="7.9" text-anchor="middle" fill="#2a2a2a" font-weight="normal" >15</text>
<line x1="401.80" y1="270.50" x2="401.80" y2="272.70" stroke="#111" stroke-width="1" />
<text x="402.10" y="281.24" font-size="7.9" text-anchor="middle" fill="#2a2a2a" font-weight="normal" >20</text>
<line x1="433.25" y1="270.50" x2="433.25" y2="272.70" stroke="#111" stroke-width="1" />
<text x="433.55" y="281.24" font-size="7.9" text-anchor="middle" fill="#2a2a2a" font-weight="normal" >25</text>
<text x="342.60" y="163.40" font-size="10.0" text-anchor="middle" fill="#2a2a2a" font-weight="normal" >Survival</text>
<text x="354.20" y="292.60" font-size="8.6" text-anchor="middle" fill="#2a2a2a" font-weight="normal" >Days of treatment</text>
<text x="0" y="0" transform="translate(240.00,220.70) rotate(-90)" font-size="8.4" text-anchor="middle" dominant-baseline="central" fill="#2a2a2a">Percent survival</text>
<text x="0" y="0" transform="translate(252.3,223.1) rotate(-90)" font-size="8.3" text-anchor="middle" dominant-baseline="central" fill="#2a2a2a">(tumor reaching 1,500 mm<tspan font-size="5" dy="-3">3</tspan><tspan dy="3">)</tspan></text>
<polyline points="372.0,179.2 430.7,179.2 430.7,188.3" fill="none" stroke="#d9262e" stroke-width="1.4"/>
<circle cx="430.70" cy="188.30" r="2.2" fill="#fff" stroke="#cc2a35" stroke-width="1.6"/>
<polyline points="276.3,179.2 372.3,179.2 372.3,198 381.09999999999997,198 381.09999999999997,215.6 385.7,215.6 385.7,225.4 389.7,225.4 389.7,243.4 395.5,243.4 395.5,261.3 410.59999999999997,261.3 410.59999999999997,270.5" fill="none" stroke="#111" stroke-width="1.5"/>
<circle cx="372.30" cy="188.30" r="2.2" fill="#111" stroke="none" stroke-width="0"/>
<circle cx="372.30" cy="198.00" r="2.2" fill="#111" stroke="none" stroke-width="0"/>
<circle cx="381.10" cy="206.30" r="2.2" fill="#111" stroke="none" stroke-width="0"/>
<circle cx="382.30" cy="215.60" r="2.2" fill="#111" stroke="none" stroke-width="0"/>
<circle cx="385.70" cy="225.40" r="2.2" fill="#111" stroke="none" stroke-width="0"/>
<circle cx="389.70" cy="243.40" r="2.2" fill="#111" stroke="none" stroke-width="0"/>
<circle cx="395.50" cy="252.00" r="2.2" fill="#111" stroke="none" stroke-width="0"/>
<circle cx="397.80" cy="261.30" r="2.2" fill="#111" stroke="none" stroke-width="0"/>
<circle cx="410.60" cy="270.50" r="2.2" fill="#111" stroke="none" stroke-width="0"/>
<polyline points="371.1,176.5 371.1,172.0 430.7,172.0 430.7,176.5" fill="none" stroke="#111" stroke-width="1.0"/>
<text x="401.70" y="171.20" font-size="10.0" text-anchor="middle" fill="#2a2a2a" font-weight="normal" >****</text>
<circle cx="286.80" cy="253.30" r="2.2" fill="#111" stroke="none" stroke-width="0"/>
<text x="293.60" y="256.11" font-size="7.8" text-anchor="start" fill="#2a2a2a" font-weight="normal" >Vehicle control</text>
<circle cx="286.80" cy="262.20" r="2.1" fill="#fff" stroke="#cc2a35" stroke-width="1.6"/>
<text x="293.60" y="265.32" font-size="8.1" text-anchor="start" fill="#2a2a2a" font-weight="normal" >USP7-797</text>
<rect x="40.75" y="327.50" width="13.00" height="10.43" fill="#f9c0a8" />
<rect x="53.25" y="327.50" width="13.00" height="10.43" fill="#fac3ad" />
<rect x="65.75" y="327.50" width="13.00" height="10.43" fill="#f9b496" />
<rect x="78.25" y="327.50" width="13.00" height="10.43" fill="#f9ac90" />
<rect x="90.75" y="327.50" width="13.00" height="10.43" fill="#f8744f" />
<rect x="103.25" y="327.50" width="12.50" height="10.43" fill="#f86a40" />
<rect x="40.75" y="337.43" width="13.00" height="10.43" fill="#fbe6e2" />
<rect x="53.25" y="337.43" width="13.00" height="10.43" fill="#fbe7dd" />
<rect x="65.75" y="337.43" width="13.00" height="10.43" fill="#f9d5c5" />
<rect x="78.25" y="337.43" width="13.00" height="10.43" fill="#f9c3b0" />
<rect x="90.75" y="337.43" width="13.00" height="10.43" fill="#f9b19a" />
<rect x="103.25" y="337.43" width="12.50" height="10.43" fill="#f55d32" />
<rect x="53.25" y="347.36" width="13.00" height="10.43" fill="#fde8e8" />
<rect x="78.25" y="347.36" width="13.00" height="10.43" fill="#fbeff2" />
<rect x="90.75" y="347.36" width="13.00" height="10.43" fill="#f9d8d8" />
<rect x="103.25" y="347.36" width="12.50" height="10.43" fill="#fdeee2" />
<rect x="53.25" y="357.29" width="13.00" height="10.43" fill="#fde9de" />
<rect x="65.75" y="357.29" width="13.00" height="10.43" fill="#f7b9b5" />
<rect x="78.25" y="357.29" width="13.00" height="10.43" fill="#fceee8" />
<rect x="90.75" y="357.29" width="13.00" height="10.43" fill="#fde8e8" />
<rect x="103.25" y="357.29" width="12.50" height="10.43" fill="#fdebdf" />
<rect x="53.25" y="367.22" width="13.00" height="10.43" fill="#fde9df" />
<rect x="65.75" y="367.22" width="13.00" height="10.43" fill="#fdeaea" />
<rect x="90.75" y="367.22" width="13.00" height="10.43" fill="#fdeaea" />
<rect x="40.75" y="377.15" width="13.00" height="10.43" fill="#e3e3e3" />
<rect x="65.75" y="377.15" width="13.00" height="10.43" fill="#e5e5e5" />
<rect x="78.25" y="377.15" width="13.00" height="10.43" fill="#e5e5e5" />
<rect x="53.25" y="387.08" width="13.00" height="10.43" fill="#fffde6" />
<rect x="90.75" y="387.08" width="13.00" height="10.43" fill="#fde6e6" />
<rect x="103.25" y="387.08" width="12.50" height="10.43" fill="#fbcdb6" />
<rect x="40.75" y="397.01" width="13.00" height="10.43" fill="#f8e6fb" />
<rect x="65.75" y="397.01" width="13.00" height="10.43" fill="#e5e5e5" />
<rect x="78.25" y="397.01" width="13.00" height="10.43" fill="#e5e5e5" />
<rect x="90.75" y="397.01" width="13.00" height="10.43" fill="#fde6e6" />
<rect x="103.25" y="397.01" width="12.50" height="10.43" fill="#fde6e6" />
<rect x="40.75" y="406.94" width="13.00" height="10.43" fill="#fde8e8" />
<rect x="53.25" y="406.94" width="13.00" height="10.43" fill="#fde8e8" />
<rect x="65.75" y="406.94" width="13.00" height="10.43" fill="#f6e0fb" />
<rect x="90.75" y="406.94" width="13.00" height="10.43" fill="#fefde5" />
<rect x="103.25" y="406.94" width="12.50" height="10.43" fill="#fde8e8" />
<rect x="40.75" y="416.87" width="13.00" height="9.93" fill="#e3e3e3" />
<rect x="53.25" y="416.87" width="13.00" height="9.93" fill="#fefde5" />
<rect x="65.75" y="416.87" width="13.00" height="9.93" fill="#fde8e8" />
<rect x="78.25" y="416.87" width="13.00" height="9.93" fill="#e3e3e3" />
<rect x="103.25" y="416.87" width="12.50" height="9.93" fill="#e3e3e3" />
<text x="75.00" y="323.49" font-size="9.7" text-anchor="middle" fill="#2a2a2a" font-weight="normal" >Carboplatin</text>
<text x="27.50" y="335.18" font-size="8.0" text-anchor="end" fill="#2a2a2a" font-weight="normal" >25</text>
<text x="27.50" y="344.68" font-size="8.0" text-anchor="end" fill="#2a2a2a" font-weight="normal" >12.5</text>
<text x="27.50" y="353.68" font-size="8.0" text-anchor="end" fill="#2a2a2a" font-weight="normal" >6.25</text>
<text x="27.50" y="364.48" font-size="8.0" text-anchor="end" fill="#2a2a2a" font-weight="normal" >3.1</text>
<text x="27.50" y="374.68" font-size="8.0" text-anchor="end" fill="#2a2a2a" font-weight="normal" >1.6</text>
<text x="27.50" y="384.58" font-size="8.0" text-anchor="end" fill="#2a2a2a" font-weight="normal" >0.8</text>
<text x="27.50" y="394.68" font-size="8.0" text-anchor="end" fill="#2a2a2a" font-weight="normal" >0.4</text>
<text x="27.50" y="404.58" font-size="8.0" text-anchor="end" fill="#2a2a2a" font-weight="normal" >0.2</text>
<text x="27.50" y="414.18" font-size="8.0" text-anchor="end" fill="#2a2a2a" font-weight="normal" >0.1</text>
<text x="27.50" y="424.78" font-size="8.0" text-anchor="end" fill="#2a2a2a" font-weight="normal" >0.05</text>
<text x="27.50" y="434.78" font-size="8.0" text-anchor="end" fill="#2a2a2a" font-weight="normal" >0</text>
<text x="34.20" y="443.08" font-size="8.0" text-anchor="middle" fill="#2a2a2a" font-weight="normal" >0</text>
<text x="0" y="0" transform="translate(51.83,439.60) rotate(-45)" font-size="7.9" text-anchor="end" fill="#2a2a2a">0.06</text>
<text x="0" y="0" transform="translate(64.46,439.60) rotate(-45)" font-size="7.9" text-anchor="end" fill="#2a2a2a">0.12</text>
<text x="0" y="0" transform="translate(77.09,439.60) rotate(-45)" font-size="7.9" text-anchor="end" fill="#2a2a2a">0.25</text>
<text x="0" y="0" transform="translate(89.72,439.60) rotate(-45)" font-size="7.9" text-anchor="end" fill="#2a2a2a">0.5</text>
<text x="97.35" y="443.08" font-size="8.0" text-anchor="middle" fill="#2a2a2a" font-weight="normal" >1</text>
<text x="109.98" y="443.08" font-size="8.0" text-anchor="middle" fill="#2a2a2a" font-weight="normal" >2</text>
<rect x="154.40" y="327.60" width="14.00" height="11.52" fill="#f9cdc0" />
<rect x="167.90" y="327.60" width="14.00" height="11.52" fill="#f9c7b5" />
<rect x="181.40" y="327.60" width="14.00" height="11.52" fill="#fbdbd8" />
<rect x="194.90" y="327.60" width="14.00" height="11.52" fill="#f9c8b8" />
<rect x="208.40" y="327.60" width="14.00" height="11.52" fill="#a09de0" />
<rect x="221.90" y="327.60" width="13.50" height="11.52" fill="#fbd5c6" />
<rect x="154.40" y="338.62" width="14.00" height="11.52" fill="#ee3a1e" />
<rect x="167.90" y="338.62" width="14.00" height="11.52" fill="#f45a3a" />
<rect x="181.40" y="338.62" width="14.00" height="11.52" fill="#e8321e" />
<rect x="194.90" y="338.62" width="14.00" height="11.52" fill="#f8947a" />
<rect x="208.40" y="338.62" width="14.00" height="11.52" fill="#f6704c" />
<rect x="221.90" y="338.62" width="13.50" height="11.52" fill="#e8411f" />
<rect x="154.40" y="349.64" width="14.00" height="11.52" fill="#f88f72" />
<rect x="167.90" y="349.64" width="14.00" height="11.52" fill="#f88f72" />
<rect x="181.40" y="349.64" width="14.00" height="11.52" fill="#f8937a" />
<rect x="194.90" y="349.64" width="14.00" height="11.52" fill="#f7875f" />
<rect x="208.40" y="349.64" width="14.00" height="11.52" fill="#f77a56" />
<rect x="221.90" y="349.64" width="13.50" height="11.52" fill="#f77c5e" />
<rect x="154.40" y="360.66" width="14.00" height="11.52" fill="#fad1c6" />
<rect x="167.90" y="360.66" width="14.00" height="11.52" fill="#fbdccd" />
<rect x="181.40" y="360.66" width="14.00" height="11.52" fill="#f8aa98" />
<rect x="194.90" y="360.66" width="14.00" height="11.52" fill="#f8a794" />
<rect x="208.40" y="360.66" width="14.00" height="11.52" fill="#f8a48e" />
<rect x="221.90" y="360.66" width="13.50" height="11.52" fill="#f8a890" />
<rect x="154.40" y="371.68" width="14.00" height="11.52" fill="#fcebe4" />
<rect x="167.90" y="371.68" width="14.00" height="11.52" fill="#fbe8df" />
<rect x="181.40" y="371.68" width="14.00" height="11.52" fill="#fbe0dc" />
<rect x="194.90" y="371.68" width="14.00" height="11.52" fill="#f8b39c" />
<rect x="208.40" y="371.68" width="14.00" height="11.52" fill="#fbd8dc" />
<rect x="221.90" y="371.68" width="13.50" height="11.52" fill="#fac6bc" />
<rect x="181.40" y="382.70" width="14.00" height="11.52" fill="#fffde9" />
<rect x="194.90" y="382.70" width="14.00" height="11.52" fill="#fde5e8" />
<rect x="208.40" y="382.70" width="14.00" height="11.52" fill="#fbd5dc" />
<rect x="221.90" y="382.70" width="13.50" height="11.52" fill="#fbcbc8" />
<rect x="154.40" y="393.72" width="14.00" height="11.52" fill="#fbe6dc" />
<rect x="167.90" y="393.72" width="14.00" height="11.52" fill="#fffde9" />
<rect x="194.90" y="393.72" width="14.00" height="11.52" fill="#fde8ea" />
<rect x="208.40" y="393.72" width="14.00" height="11.52" fill="#fbe0e0" />
<rect x="221.90" y="393.72" width="13.50" height="11.52" fill="#fbd7dc" />
<rect x="154.40" y="404.74" width="14.00" height="11.52" fill="#fbe6dc" />
<rect x="181.40" y="404.74" width="14.00" height="11.52" fill="#e5e5e5" />
<rect x="194.90" y="404.74" width="14.00" height="11.52" fill="#e5e5e5" />
<rect x="208.40" y="404.74" width="14.00" height="11.52" fill="#fffde9" />
<rect x="221.90" y="404.74" width="13.50" height="11.52" fill="#fbeae6" />
<rect x="154.40" y="415.76" width="14.00" height="11.02" fill="#fffde9" />
<rect x="181.40" y="415.76" width="14.00" height="11.02" fill="#f8dcf5" />
<rect x="194.90" y="415.76" width="14.00" height="11.02" fill="#fffde9" />
<rect x="208.40" y="415.76" width="14.00" height="11.02" fill="#fffde9" />
<rect x="221.90" y="415.76" width="13.50" height="11.02" fill="#fffde9" />
<text x="196.20" y="323.49" font-size="9.7" text-anchor="middle" fill="#2a2a2a" font-weight="normal" >Doxorubicin</text>
<text x="139.80" y="335.88" font-size="8.0" text-anchor="end" fill="#2a2a2a" font-weight="normal" >0.25</text>
<text x="139.80" y="346.98" font-size="8.0" text-anchor="end" fill="#2a2a2a" font-weight="normal" >0.12</text>
<text x="139.80" y="358.08" font-size="8.0" text-anchor="end" fill="#2a2a2a" font-weight="normal" >0.06</text>
<text x="139.80" y="368.88" font-size="8.0" text-anchor="end" fill="#2a2a2a" font-weight="normal" >0.03</text>
<text x="139.80" y="379.78" font-size="8.0" text-anchor="end" fill="#2a2a2a" font-weight="normal" >0.02</text>
<text x="139.80" y="390.88" font-size="8.0" text-anchor="end" fill="#2a2a2a" font-weight="normal" >0.01</text>
<text x="139.80" y="402.28" font-size="8.0" text-anchor="end" fill="#2a2a2a" font-weight="normal" >0.004</text>
<text x="139.80" y="413.78" font-size="8.0" text-anchor="end" fill="#2a2a2a" font-weight="normal" >0.002</text>
<text x="139.80" y="425.18" font-size="8.0" text-anchor="end" fill="#2a2a2a" font-weight="normal" >0.001</text>
<text x="139.80" y="436.68" font-size="8.0" text-anchor="end" fill="#2a2a2a" font-weight="normal" >0</text>
<text x="151.60" y="444.58" font-size="8.0" text-anchor="middle" fill="#2a2a2a" font-weight="normal" >0</text>
<text x="0" y="0" transform="translate(169.10,440.50) rotate(-45)" font-size="7.9" text-anchor="end" fill="#2a2a2a">0.06</text>
<text x="0" y="0" transform="translate(181.60,440.50) rotate(-45)" font-size="7.9" text-anchor="end" fill="#2a2a2a">0.12</text>
<text x="0" y="0" transform="translate(194.10,440.50) rotate(-45)" font-size="7.9" text-anchor="end" fill="#2a2a2a">0.25</text>
<text x="0" y="0" transform="translate(206.60,440.50) rotate(-45)" font-size="7.9" text-anchor="end" fill="#2a2a2a">0.5</text>
<text x="214.10" y="444.58" font-size="8.0" text-anchor="middle" fill="#2a2a2a" font-weight="normal" >1</text>
<text x="226.60" y="444.58" font-size="8.0" text-anchor="middle" fill="#2a2a2a" font-weight="normal" >2</text>
<rect x="270.60" y="326.50" width="12.80" height="10.58" fill="#fbc1ad" />
<rect x="282.90" y="326.50" width="12.80" height="10.58" fill="#fbc1ad" />
<rect x="295.20" y="326.50" width="12.80" height="10.58" fill="#f9b79e" />
<rect x="307.50" y="326.50" width="12.80" height="10.58" fill="#f99577" />
<rect x="319.80" y="326.50" width="12.80" height="10.58" fill="#f9a082" />
<rect x="332.10" y="326.50" width="12.30" height="10.58" fill="#f9a88c" />
<rect x="270.60" y="336.58" width="12.80" height="10.58" fill="#fbc5b0" />
<rect x="282.90" y="336.58" width="12.80" height="10.58" fill="#f9ad8c" />
<rect x="295.20" y="336.58" width="12.80" height="10.58" fill="#f8a58c" />
<rect x="307.50" y="336.58" width="12.80" height="10.58" fill="#f9b8a0" />
<rect x="319.80" y="336.58" width="12.80" height="10.58" fill="#f8907a" />
<rect x="332.10" y="336.58" width="12.30" height="10.58" fill="#f8a080" />
<rect x="270.60" y="346.66" width="12.80" height="10.58" fill="#fbd3c5" />
<rect x="282.90" y="346.66" width="12.80" height="10.58" fill="#fbcfcc" />
<rect x="295.20" y="346.66" width="12.80" height="10.58" fill="#fbd3c5" />
<rect x="307.50" y="346.66" width="12.80" height="10.58" fill="#fbc7b8" />
<rect x="319.80" y="346.66" width="12.80" height="10.58" fill="#f8947f" />
<rect x="332.10" y="346.66" width="12.30" height="10.58" fill="#fbd8c8" />
<rect x="270.60" y="356.74" width="12.80" height="10.58" fill="#fde8e6" />
<rect x="282.90" y="356.74" width="12.80" height="10.58" fill="#fdeee8" />
<rect x="295.20" y="356.74" width="12.80" height="10.58" fill="#fdeee8" />
<rect x="307.50" y="356.74" width="12.80" height="10.58" fill="#fbe7e6" />
<rect x="319.80" y="356.74" width="12.80" height="10.58" fill="#fdfde5" />
<rect x="332.10" y="356.74" width="12.30" height="10.58" fill="#e7e9ea" />
<rect x="282.90" y="366.82" width="12.80" height="10.58" fill="#fde8dc" />
<rect x="307.50" y="376.90" width="12.80" height="10.58" fill="#e5e5e5" />
<rect x="319.80" y="376.90" width="12.80" height="10.58" fill="#e5e5e5" />
<rect x="282.90" y="386.98" width="12.80" height="10.58" fill="#fbe0e0" />
<rect x="295.20" y="386.98" width="12.80" height="10.58" fill="#fdfde5" />
<rect x="307.50" y="386.98" width="12.80" height="10.58" fill="#e5e5e5" />
<rect x="270.60" y="397.06" width="12.80" height="10.58" fill="#fdfde5" />
<rect x="295.20" y="397.06" width="12.80" height="10.58" fill="#e5e5e5" />
<rect x="307.50" y="397.06" width="12.80" height="10.58" fill="#e5e5e5" />
<rect x="319.80" y="397.06" width="12.80" height="10.58" fill="#fdfde5" />
<rect x="332.10" y="397.06" width="12.30" height="10.58" fill="#e5e5e5" />
<rect x="270.60" y="407.14" width="12.80" height="10.58" fill="#e5e5e5" />
<rect x="295.20" y="407.14" width="12.80" height="10.58" fill="#e5e5e5" />
<rect x="307.50" y="407.14" width="12.80" height="10.58" fill="#e5e5e5" />
<rect x="319.80" y="407.14" width="12.80" height="10.58" fill="#e5e5e5" />
<rect x="332.10" y="407.14" width="12.30" height="10.58" fill="#e5e5e5" />
<rect x="270.60" y="417.22" width="12.80" height="10.08" fill="#e5e5e5" />
<rect x="295.20" y="417.22" width="12.80" height="10.08" fill="#e5e5e5" />
<rect x="307.50" y="417.22" width="12.80" height="10.08" fill="#e5e5e5" />
<rect x="319.80" y="417.22" width="12.80" height="10.08" fill="#e5e5e5" />
<rect x="332.10" y="417.22" width="12.30" height="10.08" fill="#e5e5e5" />
<text x="301.50" y="323.49" font-size="9.7" text-anchor="middle" fill="#2a2a2a" font-weight="normal" >Olaparib</text>
<text x="257.00" y="334.58" font-size="8.0" text-anchor="end" fill="#2a2a2a" font-weight="normal" >75</text>
<text x="257.00" y="345.48" font-size="8.0" text-anchor="end" fill="#2a2a2a" font-weight="normal" >37.5</text>
<text x="257.00" y="356.48" font-size="8.0" text-anchor="end" fill="#2a2a2a" font-weight="normal" >18.8</text>
<text x="257.00" y="366.98" font-size="8.0" text-anchor="end" fill="#2a2a2a" font-weight="normal" >9.4</text>
<text x="257.00" y="377.48" font-size="8.0" text-anchor="end" fill="#2a2a2a" font-weight="normal" >4.1</text>
<text x="257.00" y="387.98" font-size="8.0" text-anchor="end" fill="#2a2a2a" font-weight="normal" >2.3</text>
<text x="257.00" y="397.58" font-size="8.0" text-anchor="end" fill="#2a2a2a" font-weight="normal" >1.2</text>
<text x="257.00" y="406.48" font-size="8.0" text-anchor="end" fill="#2a2a2a" font-weight="normal" >0.6</text>
<text x="257.00" y="416.58" font-size="8.0" text-anchor="end" fill="#2a2a2a" font-weight="normal" >0.3</text>
<text x="257.00" y="426.78" font-size="8.0" text-anchor="end" fill="#2a2a2a" font-weight="normal" >0.2</text>
<text x="257.00" y="437.08" font-size="8.0" text-anchor="end" fill="#2a2a2a" font-weight="normal" >0</text>
<text x="263.90" y="444.88" font-size="8.0" text-anchor="middle" fill="#2a2a2a" font-weight="normal" >0</text>
<text x="0" y="0" transform="translate(281.50,441.30) rotate(-45)" font-size="7.9" text-anchor="end" fill="#2a2a2a">0.06</text>
<text x="0" y="0" transform="translate(294.10,441.30) rotate(-45)" font-size="7.9" text-anchor="end" fill="#2a2a2a">0.12</text>
<text x="0" y="0" transform="translate(306.70,441.30) rotate(-45)" font-size="7.9" text-anchor="end" fill="#2a2a2a">0.25</text>
<text x="0" y="0" transform="translate(319.30,441.30) rotate(-45)" font-size="7.9" text-anchor="end" fill="#2a2a2a">0.5</text>
<text x="326.90" y="444.88" font-size="8.0" text-anchor="middle" fill="#2a2a2a" font-weight="normal" >1</text>
<text x="339.50" y="444.88" font-size="8.0" text-anchor="middle" fill="#2a2a2a" font-weight="normal" >2</text>
<rect x="393.60" y="327.70" width="12.90" height="12.80" fill="#d9d9ee" />
<rect x="406.00" y="327.70" width="12.90" height="12.80" fill="#e9e9e9" />
<rect x="418.40" y="327.70" width="12.90" height="12.80" fill="#d9d9ee" />
<rect x="430.80" y="327.70" width="12.90" height="12.80" fill="#ececec" />
<rect x="443.20" y="327.70" width="12.40" height="12.80" fill="#c6c6e0" />
<rect x="381.20" y="340.00" width="12.90" height="12.80" fill="#fbe3d6" />
<rect x="393.60" y="340.00" width="12.90" height="12.80" fill="#e9e9e9" />
<rect x="406.00" y="340.00" width="12.90" height="12.80" fill="#fae9e3" />
<rect x="430.80" y="340.00" width="12.90" height="12.80" fill="#fae8e0" />
<rect x="443.20" y="340.00" width="12.40" height="12.80" fill="#eeeeee" />
<rect x="381.20" y="352.30" width="12.90" height="12.80" fill="#fdfde8" />
<rect x="393.60" y="352.30" width="12.90" height="12.80" fill="#e9e9e9" />
<rect x="406.00" y="352.30" width="12.90" height="12.80" fill="#e9e9e9" />
<rect x="418.40" y="352.30" width="12.90" height="12.80" fill="#dcdcee" />
<rect x="430.80" y="352.30" width="12.90" height="12.80" fill="#e9e9e9" />
<rect x="443.20" y="352.30" width="12.40" height="12.80" fill="#ecdcef" />
<rect x="393.60" y="364.60" width="12.90" height="12.80" fill="#e9e9e9" />
<rect x="418.40" y="364.60" width="12.90" height="12.80" fill="#e9e9e9" />
<rect x="430.80" y="364.60" width="12.90" height="12.80" fill="#e9e9e9" />
<rect x="443.20" y="364.60" width="12.40" height="12.80" fill="#dedef0" />
<rect x="381.20" y="376.90" width="12.90" height="12.30" fill="#fbe6e6" />
<rect x="393.60" y="376.90" width="12.90" height="12.30" fill="#e9e9e9" />
<rect x="406.00" y="376.90" width="12.90" height="12.30" fill="#fdfde8" />
<rect x="418.40" y="376.90" width="12.90" height="12.30" fill="#e9e9e9" />
<rect x="430.80" y="376.90" width="12.90" height="12.30" fill="#fdfde5" />
<rect x="443.20" y="376.90" width="12.40" height="12.30" fill="#dedef0" />
<text x="417.90" y="323.59" font-size="9.7" text-anchor="middle" fill="#2a2a2a" font-weight="normal" >USP7-866</text>
<text x="368.00" y="337.18" font-size="8.0" text-anchor="end" fill="#2a2a2a" font-weight="normal" >1</text>
<text x="368.00" y="349.08" font-size="8.0" text-anchor="end" fill="#2a2a2a" font-weight="normal" >0.5</text>
<text x="368.00" y="361.68" font-size="8.0" text-anchor="end" fill="#2a2a2a" font-weight="normal" >0.25</text>
<text x="368.00" y="374.28" font-size="8.0" text-anchor="end" fill="#2a2a2a" font-weight="normal" >0.12</text>
<text x="368.00" y="386.78" font-size="8.0" text-anchor="end" fill="#2a2a2a" font-weight="normal" >0.06</text>
<text x="368.00" y="398.78" font-size="8.0" text-anchor="end" fill="#2a2a2a" font-weight="normal" >0</text>
<text x="374.60" y="408.38" font-size="8.0" text-anchor="middle" fill="#2a2a2a" font-weight="normal" >0</text>
<text x="0" y="0" transform="translate(392.17,405.00) rotate(-45)" font-size="7.9" text-anchor="end" fill="#2a2a2a">0.06</text>
<text x="0" y="0" transform="translate(404.74,405.00) rotate(-45)" font-size="7.9" text-anchor="end" fill="#2a2a2a">0.12</text>
<text x="0" y="0" transform="translate(417.31,405.00) rotate(-45)" font-size="7.9" text-anchor="end" fill="#2a2a2a">0.25</text>
<text x="0" y="0" transform="translate(429.88,405.00) rotate(-45)" font-size="7.9" text-anchor="end" fill="#2a2a2a">0.5</text>
<text x="437.45" y="408.38" font-size="8.0" text-anchor="middle" fill="#2a2a2a" font-weight="normal" >1</text>
<text x="450.02" y="408.38" font-size="8.0" text-anchor="middle" fill="#2a2a2a" font-weight="normal" >2</text>
<rect x="39.15" y="485.00" width="12.95" height="9.60" fill="#f9a087" />
<rect x="51.60" y="485.00" width="12.95" height="9.60" fill="#f98466" />
<rect x="64.05" y="485.00" width="12.95" height="9.60" fill="#f98a6e" />
<rect x="76.50" y="485.00" width="12.95" height="9.60" fill="#f87858" />
<rect x="88.95" y="485.00" width="12.95" height="9.60" fill="#f98468" />
<rect x="101.40" y="485.00" width="12.45" height="9.60" fill="#f87050" />
<rect x="39.15" y="494.10" width="12.95" height="9.60" fill="#fbc6b0" />
<rect x="51.60" y="494.10" width="12.95" height="9.60" fill="#f9a890" />
<rect x="64.05" y="494.10" width="12.95" height="9.60" fill="#f98068" />
<rect x="76.50" y="494.10" width="12.95" height="9.60" fill="#f8704c" />
<rect x="88.95" y="494.10" width="12.95" height="9.60" fill="#f98870" />
<rect x="101.40" y="494.10" width="12.45" height="9.60" fill="#f65e36" />
<rect x="39.15" y="503.20" width="12.95" height="9.60" fill="#fde8d8" />
<rect x="51.60" y="503.20" width="12.95" height="9.60" fill="#fbd0c8" />
<rect x="64.05" y="503.20" width="12.95" height="9.60" fill="#fbb9a4" />
<rect x="76.50" y="503.20" width="12.95" height="9.60" fill="#f9a888" />
<rect x="88.95" y="503.20" width="12.95" height="9.60" fill="#f9b09a" />
<rect x="101.40" y="503.20" width="12.45" height="9.60" fill="#f99876" />
<rect x="39.15" y="512.30" width="12.95" height="9.60" fill="#fbdcd6" />
<rect x="51.60" y="512.30" width="12.95" height="9.60" fill="#fbc09c" />
<rect x="64.05" y="512.30" width="12.95" height="9.60" fill="#f9a890" />
<rect x="76.50" y="512.30" width="12.95" height="9.60" fill="#f99880" />
<rect x="88.95" y="512.30" width="12.95" height="9.60" fill="#f9a080" />
<rect x="101.40" y="512.30" width="12.45" height="9.60" fill="#f88866" />
<rect x="39.15" y="521.40" width="12.95" height="9.60" fill="#fbd9cb" />
<rect x="51.60" y="521.40" width="12.95" height="9.60" fill="#fbd2c4" />
<rect x="64.05" y="521.40" width="12.95" height="9.60" fill="#f9b89e" />
<rect x="76.50" y="521.40" width="12.95" height="9.60" fill="#f9b598" />
<rect x="88.95" y="521.40" width="12.95" height="9.60" fill="#f9a898" />
<rect x="101.40" y="521.40" width="12.45" height="9.60" fill="#fbc4b2" />
<rect x="39.15" y="530.50" width="12.95" height="9.60" fill="#fbc3b0" />
<rect x="51.60" y="530.50" width="12.95" height="9.60" fill="#fbc7b5" />
<rect x="64.05" y="530.50" width="12.95" height="9.60" fill="#f9b494" />
<rect x="76.50" y="530.50" width="12.95" height="9.60" fill="#f9b49c" />
<rect x="88.95" y="530.50" width="12.95" height="9.60" fill="#f9ad98" />
<rect x="101.40" y="530.50" width="12.45" height="9.60" fill="#f99a7f" />
<rect x="39.15" y="539.60" width="12.95" height="9.60" fill="#fde9dd" />
<rect x="51.60" y="539.60" width="12.95" height="9.60" fill="#fbd0c6" />
<rect x="64.05" y="539.60" width="12.95" height="9.60" fill="#fbd5c5" />
<rect x="76.50" y="539.60" width="12.95" height="9.60" fill="#fbd8c8" />
<rect x="88.95" y="539.60" width="12.95" height="9.60" fill="#fbc8b2" />
<rect x="101.40" y="539.60" width="12.45" height="9.60" fill="#f9a994" />
<rect x="39.15" y="548.70" width="12.95" height="9.60" fill="#fde8dc" />
<rect x="51.60" y="548.70" width="12.95" height="9.60" fill="#fde2d8" />
<rect x="64.05" y="548.70" width="12.95" height="9.60" fill="#fde5dc" />
<rect x="76.50" y="548.70" width="12.95" height="9.60" fill="#fde8dd" />
<rect x="88.95" y="548.70" width="12.95" height="9.60" fill="#fbd0bc" />
<rect x="101.40" y="548.70" width="12.45" height="9.60" fill="#f9b49c" />
<rect x="39.15" y="557.80" width="12.95" height="9.60" fill="#fdece7" />
<rect x="51.60" y="557.80" width="12.95" height="9.60" fill="#fde8e0" />
<rect x="64.05" y="557.80" width="12.95" height="9.60" fill="#fde8de" />
<rect x="76.50" y="557.80" width="12.95" height="9.60" fill="#fde8e0" />
<rect x="88.95" y="557.80" width="12.95" height="9.60" fill="#fde4dc" />
<rect x="101.40" y="557.80" width="12.45" height="9.60" fill="#fbc9b8" />
<rect x="39.15" y="566.90" width="12.95" height="9.10" fill="#fdf0ee" />
<rect x="51.60" y="566.90" width="12.95" height="9.10" fill="#fde4e0" />
<rect x="64.05" y="566.90" width="12.95" height="9.10" fill="#fdf0dd" />
<rect x="76.50" y="566.90" width="12.95" height="9.10" fill="#fde8e6" />
<rect x="88.95" y="566.90" width="12.95" height="9.10" fill="#fde8e0" />
<rect x="101.40" y="566.90" width="12.45" height="9.10" fill="#f9b8a8" />
<text x="74.40" y="482.19" font-size="9.7" text-anchor="middle" fill="#2a2a2a" font-weight="normal" >AZD1208</text>
<text x="26.00" y="492.38" font-size="8.0" text-anchor="end" fill="#2a2a2a" font-weight="normal" >10</text>
<text x="26.00" y="501.88" font-size="8.0" text-anchor="end" fill="#2a2a2a" font-weight="normal" >5</text>
<text x="26.00" y="510.88" font-size="8.0" text-anchor="end" fill="#2a2a2a" font-weight="normal" >2.5</text>
<text x="26.00" y="519.88" font-size="8.0" text-anchor="end" fill="#2a2a2a" font-weight="normal" >1.2</text>
<text x="26.00" y="528.88" font-size="8.0" text-anchor="end" fill="#2a2a2a" font-weight="normal" >0.6</text>
<text x="26.00" y="538.38" font-size="8.0" text-anchor="end" fill="#2a2a2a" font-weight="normal" >0.3</text>
<text x="26.00" y="547.28" font-size="8.0" text-anchor="end" fill="#2a2a2a" font-weight="normal" >0.16</text>
<text x="26.00" y="556.28" font-size="8.0" text-anchor="end" fill="#2a2a2a" font-weight="normal" >0.08</text>
<text x="26.00" y="564.68" font-size="8.0" text-anchor="end" fill="#2a2a2a" font-weight="normal" >0.04</text>
<text x="26.00" y="573.68" font-size="8.0" text-anchor="end" fill="#2a2a2a" font-weight="normal" >0.02</text>
<text x="26.00" y="583.18" font-size="8.0" text-anchor="end" fill="#2a2a2a" font-weight="normal" >0</text>
<text x="33.20" y="594.68" font-size="8.0" text-anchor="middle" fill="#2a2a2a" font-weight="normal" >0</text>
<text x="0" y="0" transform="translate(50.73,592.00) rotate(-45)" font-size="7.9" text-anchor="end" fill="#2a2a2a">0.06</text>
<text x="0" y="0" transform="translate(63.26,592.00) rotate(-45)" font-size="7.9" text-anchor="end" fill="#2a2a2a">0.12</text>
<text x="0" y="0" transform="translate(75.79,592.00) rotate(-45)" font-size="7.9" text-anchor="end" fill="#2a2a2a">0.25</text>
<text x="0" y="0" transform="translate(88.32,592.00) rotate(-45)" font-size="7.9" text-anchor="end" fill="#2a2a2a">0.5</text>
<text x="95.85" y="594.68" font-size="8.0" text-anchor="middle" fill="#2a2a2a" font-weight="normal" >1</text>
<text x="108.38" y="594.68" font-size="8.0" text-anchor="middle" fill="#2a2a2a" font-weight="normal" >2</text>
<rect x="152.30" y="483.80" width="13.90" height="9.43" fill="#f9b090" />
<rect x="165.70" y="483.80" width="13.90" height="9.43" fill="#f98060" />
<rect x="179.10" y="483.80" width="13.90" height="9.43" fill="#f98060" />
<rect x="192.50" y="483.80" width="13.90" height="9.43" fill="#f87050" />
<rect x="205.90" y="483.80" width="13.90" height="9.43" fill="#f87050" />
<rect x="219.30" y="483.80" width="13.40" height="9.43" fill="#f88060" />
<rect x="152.30" y="492.73" width="13.90" height="9.43" fill="#fbc0a8" />
<rect x="165.70" y="492.73" width="13.90" height="9.43" fill="#fbc0a8" />
<rect x="179.10" y="492.73" width="13.90" height="9.43" fill="#f98a68" />
<rect x="192.50" y="492.73" width="13.90" height="9.43" fill="#f65a30" />
<rect x="205.90" y="492.73" width="13.90" height="9.43" fill="#f65a30" />
<rect x="219.30" y="492.73" width="13.40" height="9.43" fill="#e8401e" />
<rect x="152.30" y="501.66" width="13.90" height="9.43" fill="#fde4e0" />
<rect x="165.70" y="501.66" width="13.90" height="9.43" fill="#fbd0c0" />
<rect x="179.10" y="501.66" width="13.90" height="9.43" fill="#f9ae90" />
<rect x="192.50" y="501.66" width="13.90" height="9.43" fill="#f9a890" />
<rect x="205.90" y="501.66" width="13.90" height="9.43" fill="#f87050" />
<rect x="219.30" y="501.66" width="13.40" height="9.43" fill="#f87456" />
<rect x="152.30" y="510.59" width="13.90" height="9.43" fill="#fbd0cc" />
<rect x="165.70" y="510.59" width="13.90" height="9.43" fill="#fde0d8" />
<rect x="179.10" y="510.59" width="13.90" height="9.43" fill="#fbd0c0" />
<rect x="192.50" y="510.59" width="13.90" height="9.43" fill="#f9a898" />
<rect x="205.90" y="510.59" width="13.90" height="9.43" fill="#f87a5a" />
<rect x="219.30" y="510.59" width="13.40" height="9.43" fill="#f87a5a" />
<rect x="152.30" y="519.52" width="13.90" height="9.43" fill="#fdecec" />
<rect x="165.70" y="519.52" width="13.90" height="9.43" fill="#fbe0e0" />
<rect x="179.10" y="519.52" width="13.90" height="9.43" fill="#fbe0d8" />
<rect x="192.50" y="519.52" width="13.90" height="9.43" fill="#f9bab0" />
<rect x="205.90" y="519.52" width="13.90" height="9.43" fill="#fbd2c0" />
<rect x="219.30" y="519.52" width="13.40" height="9.43" fill="#fbd8c8" />
<rect x="152.30" y="528.45" width="13.90" height="9.43" fill="#fde8e0" />
<rect x="165.70" y="528.45" width="13.90" height="9.43" fill="#fde8e0" />
<rect x="179.10" y="528.45" width="13.90" height="9.43" fill="#fbdcd0" />
<rect x="192.50" y="528.45" width="13.90" height="9.43" fill="#fbdcd0" />
<rect x="205.90" y="528.45" width="13.90" height="9.43" fill="#fbdcd0" />
<rect x="219.30" y="528.45" width="13.40" height="9.43" fill="#fbc8b8" />
<rect x="152.30" y="537.38" width="13.90" height="9.43" fill="#fefde5" />
<rect x="179.10" y="537.38" width="13.90" height="9.43" fill="#fde8e8" />
<rect x="192.50" y="537.38" width="13.90" height="9.43" fill="#fde8e8" />
<rect x="205.90" y="537.38" width="13.90" height="9.43" fill="#fde8e8" />
<rect x="219.30" y="537.38" width="13.40" height="9.43" fill="#fbd8dc" />
<rect x="152.30" y="546.31" width="13.90" height="9.43" fill="#fde8e8" />
<rect x="165.70" y="546.31" width="13.90" height="9.43" fill="#fefde8" />
<rect x="179.10" y="546.31" width="13.90" height="9.43" fill="#fde8e8" />
<rect x="192.50" y="546.31" width="13.90" height="9.43" fill="#fde8e0" />
<rect x="205.90" y="546.31" width="13.90" height="9.43" fill="#fbd0c0" />
<rect x="152.30" y="555.24" width="13.90" height="9.43" fill="#fde8e8" />
<rect x="192.50" y="555.24" width="13.90" height="9.43" fill="#e2e8e2" />
<rect x="205.90" y="555.24" width="13.90" height="9.43" fill="#fefde5" />
<rect x="152.30" y="564.17" width="13.90" height="8.93" fill="#fde8e8" />
<rect x="165.70" y="564.17" width="13.90" height="8.93" fill="#fde8e0" />
<rect x="179.10" y="564.17" width="13.90" height="8.93" fill="#fde8e8" />
<rect x="205.90" y="564.17" width="13.90" height="8.93" fill="#e4e4fb" />
<rect x="219.30" y="564.17" width="13.40" height="8.93" fill="#fbd8d8" />
<text x="186.40" y="482.19" font-size="9.7" text-anchor="middle" fill="#2a2a2a" font-weight="normal" >Pictilisib</text>
<text x="136.40" y="492.08" font-size="8.0" text-anchor="end" fill="#2a2a2a" font-weight="normal" >2</text>
<text x="136.40" y="501.38" font-size="8.0" text-anchor="end" fill="#2a2a2a" font-weight="normal" >1</text>
<text x="136.40" y="509.98" font-size="8.0" text-anchor="end" fill="#2a2a2a" font-weight="normal" >0.5</text>
<text x="136.40" y="518.98" font-size="8.0" text-anchor="end" fill="#2a2a2a" font-weight="normal" >0.25</text>
<text x="136.40" y="527.88" font-size="8.0" text-anchor="end" fill="#2a2a2a" font-weight="normal" >0.12</text>
<text x="136.40" y="536.88" font-size="8.0" text-anchor="end" fill="#2a2a2a" font-weight="normal" >0.06</text>
<text x="136.40" y="544.98" font-size="8.0" text-anchor="end" fill="#2a2a2a" font-weight="normal" >0.03</text>
<text x="136.40" y="553.58" font-size="8.0" text-anchor="end" fill="#2a2a2a" font-weight="normal" >0.02</text>
<text x="136.40" y="562.38" font-size="8.0" text-anchor="end" fill="#2a2a2a" font-weight="normal" >0.01</text>
<text x="136.40" y="571.88" font-size="8.0" text-anchor="end" fill="#2a2a2a" font-weight="normal" >0.004</text>
<text x="136.40" y="579.98" font-size="8.0" text-anchor="end" fill="#2a2a2a" font-weight="normal" >0</text>
<text x="146.80" y="589.28" font-size="8.0" text-anchor="middle" fill="#2a2a2a" font-weight="normal" >0</text>
<text x="0" y="0" transform="translate(164.40,586.50) rotate(-45)" font-size="7.9" text-anchor="end" fill="#2a2a2a">0.06</text>
<text x="0" y="0" transform="translate(177.00,586.50) rotate(-45)" font-size="7.9" text-anchor="end" fill="#2a2a2a">0.12</text>
<text x="0" y="0" transform="translate(189.60,586.50) rotate(-45)" font-size="7.9" text-anchor="end" fill="#2a2a2a">0.25</text>
<text x="0" y="0" transform="translate(202.20,586.50) rotate(-45)" font-size="7.9" text-anchor="end" fill="#2a2a2a">0.5</text>
<text x="209.80" y="589.28" font-size="8.0" text-anchor="middle" fill="#2a2a2a" font-weight="normal" >1</text>
<text x="222.40" y="589.28" font-size="8.0" text-anchor="middle" fill="#2a2a2a" font-weight="normal" >2</text>
<rect x="270.90" y="484.90" width="13.00" height="9.44" fill="#f9a88a" />
<rect x="283.40" y="484.90" width="13.00" height="9.44" fill="#f98c6c" />
<rect x="295.90" y="484.90" width="13.00" height="9.44" fill="#f45030" />
<rect x="308.40" y="484.90" width="13.00" height="9.44" fill="#f04028" />
<rect x="320.90" y="484.90" width="13.00" height="9.44" fill="#f45030" />
<rect x="333.40" y="484.90" width="12.50" height="9.44" fill="#ee3a22" />
<rect x="270.90" y="493.84" width="13.00" height="9.44" fill="#fbd4cc" />
<rect x="283.40" y="493.84" width="13.00" height="9.44" fill="#fbd4c8" />
<rect x="295.90" y="493.84" width="13.00" height="9.44" fill="#f97a5a" />
<rect x="308.40" y="493.84" width="13.00" height="9.44" fill="#e83a22" />
<rect x="320.90" y="493.84" width="13.00" height="9.44" fill="#f46040" />
<rect x="333.40" y="493.84" width="12.50" height="9.44" fill="#ee3e26" />
<rect x="270.90" y="502.78" width="13.00" height="9.44" fill="#fde4e0" />
<rect x="283.40" y="502.78" width="13.00" height="9.44" fill="#fde0d8" />
<rect x="295.90" y="502.78" width="13.00" height="9.44" fill="#f9a490" />
<rect x="308.40" y="502.78" width="13.00" height="9.44" fill="#f87050" />
<rect x="320.90" y="502.78" width="13.00" height="9.44" fill="#f46448" />
<rect x="333.40" y="502.78" width="12.50" height="9.44" fill="#ee4a2a" />
<rect x="270.90" y="511.72" width="13.00" height="9.44" fill="#fde4e4" />
<rect x="283.40" y="511.72" width="13.00" height="9.44" fill="#f9b4a0" />
<rect x="295.90" y="511.72" width="13.00" height="9.44" fill="#f9a088" />
<rect x="308.40" y="511.72" width="13.00" height="9.44" fill="#f98064" />
<rect x="320.90" y="511.72" width="13.00" height="9.44" fill="#f87a5c" />
<rect x="333.40" y="511.72" width="12.50" height="9.44" fill="#ee4026" />
<rect x="270.90" y="520.66" width="13.00" height="9.44" fill="#fbccbc" />
<rect x="283.40" y="520.66" width="13.00" height="9.44" fill="#fde0d8" />
<rect x="295.90" y="520.66" width="13.00" height="9.44" fill="#fbc0b0" />
<rect x="308.40" y="520.66" width="13.00" height="9.44" fill="#f99880" />
<rect x="320.90" y="520.66" width="13.00" height="9.44" fill="#f99a80" />
<rect x="333.40" y="520.66" width="12.50" height="9.44" fill="#f98a6c" />
<rect x="270.90" y="529.60" width="13.00" height="9.44" fill="#fde6e0" />
<rect x="283.40" y="529.60" width="13.00" height="9.44" fill="#fde4d8" />
<rect x="295.90" y="529.60" width="13.00" height="9.44" fill="#fbc0b0" />
<rect x="308.40" y="529.60" width="13.00" height="9.44" fill="#fbd0c4" />
<rect x="320.90" y="529.60" width="13.00" height="9.44" fill="#f9b4a0" />
<rect x="333.40" y="529.60" width="12.50" height="9.44" fill="#f9a488" />
<rect x="270.90" y="538.54" width="13.00" height="9.44" fill="#fdeef0" />
<rect x="283.40" y="538.54" width="13.00" height="9.44" fill="#fde8f0" />
<rect x="308.40" y="538.54" width="13.00" height="9.44" fill="#fbe0dc" />
<rect x="320.90" y="538.54" width="13.00" height="9.44" fill="#fde8e8" />
<rect x="333.40" y="538.54" width="12.50" height="9.44" fill="#f9a890" />
<rect x="270.90" y="547.48" width="13.00" height="9.44" fill="#fdece6" />
<rect x="283.40" y="547.48" width="13.00" height="9.44" fill="#fdeae8" />
<rect x="295.90" y="547.48" width="13.00" height="9.44" fill="#fbd0c4" />
<rect x="308.40" y="547.48" width="13.00" height="9.44" fill="#f9b4a4" />
<rect x="320.90" y="547.48" width="13.00" height="9.44" fill="#fbe8e8" />
<rect x="333.40" y="547.48" width="12.50" height="9.44" fill="#f99a80" />
<rect x="270.90" y="556.42" width="13.00" height="9.44" fill="#fdf0ea" />
<rect x="283.40" y="556.42" width="13.00" height="9.44" fill="#fffdf0" />
<rect x="295.90" y="556.42" width="13.00" height="9.44" fill="#fdeaee" />
<rect x="308.40" y="556.42" width="13.00" height="9.44" fill="#fbd8dc" />
<rect x="320.90" y="556.42" width="13.00" height="9.44" fill="#fdf0ea" />
<rect x="333.40" y="556.42" width="12.50" height="9.44" fill="#fbc4bc" />
<rect x="270.90" y="565.36" width="13.00" height="8.94" fill="#fefdf0" />
<rect x="295.90" y="565.36" width="13.00" height="8.94" fill="#fefdf0" />
<rect x="308.40" y="565.36" width="13.00" height="8.94" fill="#fefdf0" />
<rect x="320.90" y="565.36" width="13.00" height="8.94" fill="#fbe8e8" />
<rect x="333.40" y="565.36" width="12.50" height="8.94" fill="#fbe0e8" />
<text x="305.40" y="482.19" font-size="9.7" text-anchor="middle" fill="#2a2a2a" font-weight="normal" >Taselisib</text>
<text x="256.70" y="492.98" font-size="8.0" text-anchor="end" fill="#2a2a2a" font-weight="normal" >1.2</text>
<text x="256.70" y="502.28" font-size="8.0" text-anchor="end" fill="#2a2a2a" font-weight="normal" >0.6</text>
<text x="256.70" y="511.78" font-size="8.0" text-anchor="end" fill="#2a2a2a" font-weight="normal" >0.3</text>
<text x="256.70" y="520.18" font-size="8.0" text-anchor="end" fill="#2a2a2a" font-weight="normal" >0.16</text>
<text x="256.70" y="528.78" font-size="8.0" text-anchor="end" fill="#2a2a2a" font-weight="normal" >0.08</text>
<text x="256.70" y="538.18" font-size="8.0" text-anchor="end" fill="#2a2a2a" font-weight="normal" >0.04</text>
<text x="256.70" y="547.08" font-size="8.0" text-anchor="end" fill="#2a2a2a" font-weight="normal" >0.02</text>
<text x="256.70" y="556.28" font-size="8.0" text-anchor="end" fill="#2a2a2a" font-weight="normal" >0.01</text>
<text x="256.70" y="564.68" font-size="8.0" text-anchor="end" fill="#2a2a2a" font-weight="normal" >0.005</text>
<text x="256.70" y="573.68" font-size="8.0" text-anchor="end" fill="#2a2a2a" font-weight="normal" >0.002</text>
<text x="256.70" y="582.68" font-size="8.0" text-anchor="end" fill="#2a2a2a" font-weight="normal" >0</text>
<text x="264.50" y="593.08" font-size="8.0" text-anchor="middle" fill="#2a2a2a" font-weight="normal" >0</text>
<text x="0" y="0" transform="translate(282.20,591.00) rotate(-45)" font-size="7.9" text-anchor="end" fill="#2a2a2a">0.06</text>
<text x="0" y="0" transform="translate(294.90,591.00) rotate(-45)" font-size="7.9" text-anchor="end" fill="#2a2a2a">0.12</text>
<text x="0" y="0" transform="translate(307.60,591.00) rotate(-45)" font-size="7.9" text-anchor="end" fill="#2a2a2a">0.25</text>
<text x="0" y="0" transform="translate(320.30,591.00) rotate(-45)" font-size="7.9" text-anchor="end" fill="#2a2a2a">0.5</text>
<text x="328.00" y="593.08" font-size="8.0" text-anchor="middle" fill="#2a2a2a" font-weight="normal" >1</text>
<text x="340.70" y="593.08" font-size="8.0" text-anchor="middle" fill="#2a2a2a" font-weight="normal" >2</text>
<rect x="381.20" y="484.30" width="13.06" height="11.38" fill="#e0e0f0" />
<rect x="393.76" y="484.30" width="13.06" height="11.38" fill="#e8daf0" />
<rect x="406.32" y="484.30" width="13.06" height="11.38" fill="#e0e0f0" />
<rect x="418.88" y="484.30" width="13.06" height="11.38" fill="#e0daf0" />
<rect x="431.44" y="484.30" width="13.06" height="11.38" fill="#d8d0e8" />
<rect x="444.00" y="484.30" width="12.56" height="11.38" fill="#d0d0e8" />
<rect x="381.20" y="495.18" width="13.06" height="11.38" fill="#e0e0f0" />
<rect x="393.76" y="495.18" width="13.06" height="11.38" fill="#a8acd8" />
<rect x="406.32" y="495.18" width="13.06" height="11.38" fill="#d8c8e8" />
<rect x="418.88" y="495.18" width="13.06" height="11.38" fill="#e0e0f0" />
<rect x="431.44" y="495.18" width="13.06" height="11.38" fill="#d8c8e8" />
<rect x="444.00" y="495.18" width="12.56" height="11.38" fill="#d0d0e8" />
<rect x="381.20" y="506.06" width="13.06" height="11.38" fill="#d0c0e0" />
<rect x="393.76" y="506.06" width="13.06" height="11.38" fill="#d0d0e0" />
<rect x="406.32" y="506.06" width="13.06" height="11.38" fill="#c8c8e0" />
<rect x="418.88" y="506.06" width="13.06" height="11.38" fill="#e0e0f0" />
<rect x="431.44" y="506.06" width="13.06" height="11.38" fill="#d8c8e8" />
<rect x="444.00" y="506.06" width="12.56" height="11.38" fill="#b8b8e0" />
<rect x="381.20" y="516.94" width="13.06" height="11.38" fill="#e0e0f0" />
<rect x="393.76" y="516.94" width="13.06" height="11.38" fill="#ececec" />
<rect x="406.32" y="516.94" width="13.06" height="11.38" fill="#ececec" />
<rect x="418.88" y="516.94" width="13.06" height="11.38" fill="#ececec" />
<rect x="431.44" y="516.94" width="13.06" height="11.38" fill="#d0d0e0" />
<rect x="444.00" y="516.94" width="12.56" height="11.38" fill="#e0e0f0" />
<rect x="381.20" y="527.82" width="13.06" height="11.38" fill="#e0e0f0" />
<rect x="393.76" y="527.82" width="13.06" height="11.38" fill="#e0e0f0" />
<rect x="418.88" y="527.82" width="13.06" height="11.38" fill="#e0e0f0" />
<rect x="431.44" y="527.82" width="13.06" height="11.38" fill="#d0d0e0" />
<rect x="444.00" y="527.82" width="12.56" height="11.38" fill="#eeeef8" />
<rect x="381.20" y="538.70" width="13.06" height="10.88" fill="#e0e0f0" />
<rect x="393.76" y="538.70" width="13.06" height="10.88" fill="#eadcf0" />
<rect x="406.32" y="538.70" width="13.06" height="10.88" fill="#e0e0f0" />
<rect x="418.88" y="538.70" width="13.06" height="10.88" fill="#e0e0f0" />
<rect x="431.44" y="538.70" width="13.06" height="10.88" fill="#e0e0f0" />
<text x="418.40" y="480.89" font-size="9.7" text-anchor="middle" fill="#2a2a2a" font-weight="normal" >USP7-797</text>
<text x="368.00" y="492.18" font-size="8.0" text-anchor="end" fill="#2a2a2a" font-weight="normal" >2</text>
<text x="368.00" y="503.38" font-size="8.0" text-anchor="end" fill="#2a2a2a" font-weight="normal" >1</text>
<text x="368.00" y="514.28" font-size="8.0" text-anchor="end" fill="#2a2a2a" font-weight="normal" >0.5</text>
<text x="368.00" y="526.18" font-size="8.0" text-anchor="end" fill="#2a2a2a" font-weight="normal" >0.25</text>
<text x="368.00" y="537.88" font-size="8.0" text-anchor="end" fill="#2a2a2a" font-weight="normal" >0.12</text>
<text x="368.00" y="547.78" font-size="8.0" text-anchor="end" fill="#2a2a2a" font-weight="normal" >0.06</text>
<text x="368.00" y="558.38" font-size="8.0" text-anchor="end" fill="#2a2a2a" font-weight="normal" >0</text>
<text x="377.50" y="569.38" font-size="8.0" text-anchor="middle" fill="#2a2a2a" font-weight="normal" >0</text>
<text x="0" y="0" transform="translate(395.00,567.00) rotate(-45)" font-size="7.9" text-anchor="end" fill="#2a2a2a">0.06</text>
<text x="0" y="0" transform="translate(407.50,567.00) rotate(-45)" font-size="7.9" text-anchor="end" fill="#2a2a2a">0.12</text>
<text x="0" y="0" transform="translate(420.00,567.00) rotate(-45)" font-size="7.9" text-anchor="end" fill="#2a2a2a">0.25</text>
<text x="0" y="0" transform="translate(432.50,567.00) rotate(-45)" font-size="7.9" text-anchor="end" fill="#2a2a2a">0.5</text>
<text x="440.00" y="569.38" font-size="8.0" text-anchor="middle" fill="#2a2a2a" font-weight="normal" >1</text>
<text x="452.50" y="569.38" font-size="8.0" text-anchor="middle" fill="#2a2a2a" font-weight="normal" >2</text>
<defs><linearGradient id="g1" x1="0" y1="0" x2="0" y2="1"><stop offset="0" stop-color="#e41e1e"/><stop offset="0.3" stop-color="#f46a4c"/><stop offset="0.57" stop-color="#ffffff"/><stop offset="0.8" stop-color="#a8a6d6"/><stop offset="1" stop-color="#6464b4"/></linearGradient><linearGradient id="g2" x1="0" y1="0" x2="0" y2="1"><stop offset="0" stop-color="#e41e1e"/><stop offset="0.4" stop-color="#f47e64"/><stop offset="0.72" stop-color="#ffffff"/><stop offset="1" stop-color="#b4b4d0"/></linearGradient></defs>
<rect x="467.10" y="341.00" width="9.20" height="46.50" fill="url(#g1)" />
<text x="476.00" y="340.87" font-size="7.7" text-anchor="start" fill="#2a2a2a" font-weight="normal" >Synergy</text>
<text x="476.30" y="352.74" font-size="7.6" text-anchor="start" fill="#2a2a2a" font-weight="normal" >4</text>
<text x="476.30" y="361.54" font-size="7.6" text-anchor="start" fill="#2a2a2a" font-weight="normal" >2</text>
<text x="476.30" y="370.84" font-size="7.6" text-anchor="start" fill="#2a2a2a" font-weight="normal" >0</text>
<text x="476.30" y="380.84" font-size="7.6" text-anchor="start" fill="#2a2a2a" font-weight="normal" >−2</text>
<text x="476.30" y="388.34" font-size="7.6" text-anchor="start" fill="#2a2a2a" font-weight="normal" >−4</text>
<text x="475.00" y="395.87" font-size="7.7" text-anchor="start" fill="#2a2a2a" font-weight="normal" >Interference</text>
<rect x="468.70" y="490.10" width="8.70" height="47.00" fill="url(#g2)" />
<text x="478.10" y="490.97" font-size="7.7" text-anchor="start" fill="#2a2a2a" font-weight="normal" >Synergy</text>
<text x="478.30" y="501.74" font-size="7.6" text-anchor="start" fill="#2a2a2a" font-weight="normal" >3</text>
<text x="478.30" y="510.74" font-size="7.6" text-anchor="start" fill="#2a2a2a" font-weight="normal" >2</text>
<text x="478.30" y="520.44" font-size="7.6" text-anchor="start" fill="#2a2a2a" font-weight="normal" >1</text>
<text x="478.30" y="529.14" font-size="7.6" text-anchor="start" fill="#2a2a2a" font-weight="normal" >0</text>
<text x="478.30" y="537.54" font-size="7.6" text-anchor="start" fill="#2a2a2a" font-weight="normal" >−1</text>
<text x="478.10" y="545.77" font-size="7.7" text-anchor="start" fill="#2a2a2a" font-weight="normal" >Interference</text>
</svg></body></html>
